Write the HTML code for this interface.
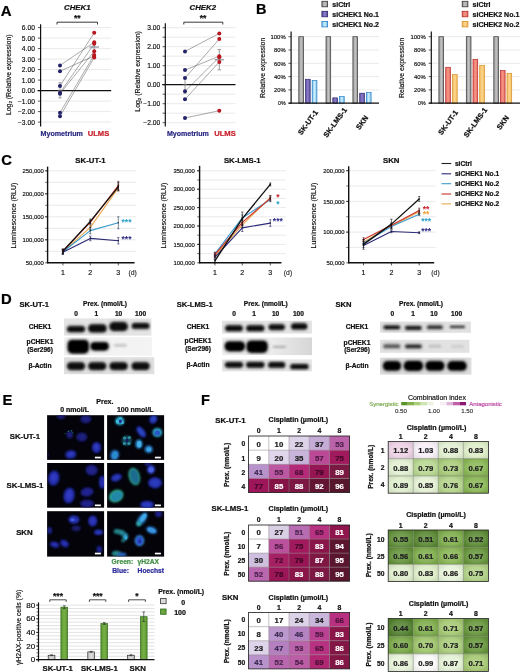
<!DOCTYPE html>
<html lang="en"><head><meta charset="utf-8"><title>Figure</title>
<style>
html,body{margin:0;padding:0;background:#fff;}
body{width:520px;height:672px;overflow:hidden;}
svg{display:block;font-family:"Liberation Sans",Arial,Helvetica,sans-serif;}
</style></head><body>
<svg width="520" height="672" viewBox="0 0 520 672">
<defs>
<linearGradient id="gG" x1="0" x2="1" y1="0" y2="0"><stop offset="0" stop-color="#8e8e8e"/><stop offset="0.5" stop-color="#c6c6c6"/><stop offset="1" stop-color="#8e8e8e"/></linearGradient>
<linearGradient id="gP" x1="0" x2="1" y1="0" y2="0"><stop offset="0" stop-color="#5a4aa0"/><stop offset="0.5" stop-color="#8e80cc"/><stop offset="1" stop-color="#5a4aa0"/></linearGradient>
<linearGradient id="gC" x1="0" x2="1" y1="0" y2="0"><stop offset="0" stop-color="#6cbcec"/><stop offset="0.5" stop-color="#d4f0fc"/><stop offset="1" stop-color="#6cbcec"/></linearGradient>
<linearGradient id="gR" x1="0" x2="1" y1="0" y2="0"><stop offset="0" stop-color="#e86858"/><stop offset="0.5" stop-color="#f4988a"/><stop offset="1" stop-color="#e86858"/></linearGradient>
<linearGradient id="gO" x1="0" x2="1" y1="0" y2="0"><stop offset="0" stop-color="#f4b858"/><stop offset="0.5" stop-color="#fcd890"/><stop offset="1" stop-color="#f4b858"/></linearGradient>
<filter id="b1" x="-20%" y="-60%" width="140%" height="220%"><feGaussianBlur stdDeviation="1.0"/></filter>
<filter id="b2" x="-20%" y="-60%" width="140%" height="220%"><feGaussianBlur stdDeviation="1.4"/></filter>
<filter id="b05" x="-20%" y="-60%" width="140%" height="220%"><feGaussianBlur stdDeviation="0.6"/></filter>
<linearGradient id="bg22" x1="0" x2="1" y1="0" y2="0"><stop offset="0" stop-color="#efefef"/><stop offset="0.55" stop-color="#ececec"/><stop offset="1" stop-color="#d6d6d6"/></linearGradient>
<clipPath id="ba1"><rect x="64.00" y="318.40" width="87.40" height="17.20"/></clipPath>
<clipPath id="ba2"><rect x="64.00" y="337.20" width="87.90" height="18.40"/></clipPath>
<clipPath id="ba3"><rect x="64.00" y="357.20" width="90.30" height="17.00"/></clipPath>
<clipPath id="bb1"><rect x="222.00" y="320.70" width="90.00" height="12.90"/></clipPath>
<clipPath id="bb2"><rect x="222.00" y="337.50" width="90.00" height="17.60"/></clipPath>
<clipPath id="bb3"><rect x="222.00" y="359.40" width="90.00" height="12.00"/></clipPath>
<clipPath id="bc1"><rect x="380.00" y="321.60" width="90.90" height="11.20"/></clipPath>
<clipPath id="bc2"><rect x="380.00" y="339.80" width="89.40" height="13.00"/></clipPath>
<clipPath id="bc3"><rect x="380.00" y="357.60" width="91.40" height="17.00"/></clipPath>
<filter id="c1" x="-30%" y="-30%" width="160%" height="160%"><feGaussianBlur stdDeviation="1.05"/></filter>
<filter id="c2" x="-30%" y="-30%" width="160%" height="160%"><feGaussianBlur stdDeviation="1.4"/></filter>
<filter id="c0" x="-30%" y="-30%" width="160%" height="160%"><feGaussianBlur stdDeviation="0.65"/></filter>
<clipPath id="m1"><rect x="47.10" y="415.20" width="57.0" height="44.7"/></clipPath>
<clipPath id="m2"><rect x="107.10" y="415.20" width="57.0" height="44.7"/></clipPath>
<clipPath id="m3"><rect x="47.10" y="463.00" width="57.0" height="44.7"/></clipPath>
<clipPath id="m4"><rect x="107.10" y="463.00" width="57.0" height="44.7"/></clipPath>
<clipPath id="m5"><rect x="47.10" y="511.20" width="57.0" height="45.4"/></clipPath>
<clipPath id="m6"><rect x="107.10" y="511.20" width="57.0" height="45.4"/></clipPath>
<linearGradient id="gGr" x1="0" x2="1" y1="0" y2="0"><stop offset="0" stop-color="#5c9630"/><stop offset="0.5" stop-color="#78b048"/><stop offset="1" stop-color="#5c9630"/></linearGradient>
<linearGradient id="gGy" x1="0" x2="1" y1="0" y2="0"><stop offset="0" stop-color="#c0c0c0"/><stop offset="0.5" stop-color="#dedede"/><stop offset="1" stop-color="#c0c0c0"/></linearGradient>
<radialGradient id="gloss" cx="0.5" cy="0.5" r="0.62"><stop offset="0" stop-color="#fff" stop-opacity="0.22"/><stop offset="0.6" stop-color="#fff" stop-opacity="0.1"/><stop offset="1" stop-color="#000" stop-opacity="0.06"/></radialGradient>
</defs>
<rect width="520" height="672" fill="#fff"/>
<text x="0.80" y="15.77" font-size="15" font-weight="bold" fill="#000" stroke="#000" stroke-width="0.22">A</text>
<text x="77.30" y="10.39" font-size="7.8" font-weight="bold" text-anchor="middle" fill="#111" font-style="italic" stroke="#111" stroke-width="0.22">CHEK1</text>
<text x="77.30" y="20.92" font-size="8.5" font-weight="bold" text-anchor="middle" fill="#111" stroke="#111" stroke-width="0.22">**</text>
<polyline points="57.00,24.50 57.00,22.20 97.50,22.20 97.50,24.50" fill="none" stroke="#222" stroke-width="0.9"/>
<line x1="40.60" y1="122.10" x2="111.20" y2="122.10" stroke="#d9d9d9" stroke-width="0.55"/>
<line x1="40.60" y1="111.60" x2="111.20" y2="111.60" stroke="#d9d9d9" stroke-width="0.55"/>
<line x1="40.60" y1="101.10" x2="111.20" y2="101.10" stroke="#d9d9d9" stroke-width="0.55"/>
<line x1="40.60" y1="80.10" x2="111.20" y2="80.10" stroke="#d9d9d9" stroke-width="0.55"/>
<line x1="40.60" y1="69.60" x2="111.20" y2="69.60" stroke="#d9d9d9" stroke-width="0.55"/>
<line x1="40.60" y1="59.10" x2="111.20" y2="59.10" stroke="#d9d9d9" stroke-width="0.55"/>
<line x1="40.60" y1="48.60" x2="111.20" y2="48.60" stroke="#d9d9d9" stroke-width="0.55"/>
<line x1="40.60" y1="38.10" x2="111.20" y2="38.10" stroke="#d9d9d9" stroke-width="0.55"/>
<line x1="40.60" y1="27.60" x2="111.20" y2="27.60" stroke="#d9d9d9" stroke-width="0.55"/>
<line x1="37.90" y1="122.10" x2="40.60" y2="122.10" stroke="#111" stroke-width="0.7"/>
<text x="34.90" y="124.50" font-size="6.7" text-anchor="end" stroke="#222" stroke-width="0.16">−3.00</text>
<line x1="37.90" y1="111.60" x2="40.60" y2="111.60" stroke="#111" stroke-width="0.7"/>
<text x="34.90" y="114.00" font-size="6.7" text-anchor="end" stroke="#222" stroke-width="0.16">−2.00</text>
<line x1="37.90" y1="101.10" x2="40.60" y2="101.10" stroke="#111" stroke-width="0.7"/>
<text x="34.90" y="103.50" font-size="6.7" text-anchor="end" stroke="#222" stroke-width="0.16">−1.00</text>
<line x1="37.90" y1="90.60" x2="40.60" y2="90.60" stroke="#111" stroke-width="0.7"/>
<text x="34.90" y="93.00" font-size="6.7" text-anchor="end" stroke="#222" stroke-width="0.16">0.00</text>
<line x1="37.90" y1="80.10" x2="40.60" y2="80.10" stroke="#111" stroke-width="0.7"/>
<text x="34.90" y="82.50" font-size="6.7" text-anchor="end" stroke="#222" stroke-width="0.16">1.00</text>
<line x1="37.90" y1="69.60" x2="40.60" y2="69.60" stroke="#111" stroke-width="0.7"/>
<text x="34.90" y="72.00" font-size="6.7" text-anchor="end" stroke="#222" stroke-width="0.16">2.00</text>
<line x1="37.90" y1="59.10" x2="40.60" y2="59.10" stroke="#111" stroke-width="0.7"/>
<text x="34.90" y="61.50" font-size="6.7" text-anchor="end" stroke="#222" stroke-width="0.16">3.00</text>
<line x1="37.90" y1="48.60" x2="40.60" y2="48.60" stroke="#111" stroke-width="0.7"/>
<text x="34.90" y="51.00" font-size="6.7" text-anchor="end" stroke="#222" stroke-width="0.16">4.00</text>
<line x1="37.90" y1="38.10" x2="40.60" y2="38.10" stroke="#111" stroke-width="0.7"/>
<text x="34.90" y="40.50" font-size="6.7" text-anchor="end" stroke="#222" stroke-width="0.16">5.00</text>
<line x1="37.90" y1="27.60" x2="40.60" y2="27.60" stroke="#111" stroke-width="0.7"/>
<text x="34.90" y="30.00" font-size="6.7" text-anchor="end" stroke="#222" stroke-width="0.16">6.00</text>
<line x1="40.60" y1="24.30" x2="40.60" y2="126.40" stroke="#111" stroke-width="1.2"/>
<line x1="37.60" y1="90.60" x2="111.20" y2="90.60" stroke="#111" stroke-width="1.25"/>
<text x="8.80" y="77.27" font-size="6.9" text-anchor="middle" transform="rotate(-90 8.80 74.80)" stroke="#222" stroke-width="0.16">Log<tspan font-size="4.4" dy="0.8">2</tspan><tspan dy="-0.8"> (Relative expression)</tspan></text>
<line x1="60.00" y1="65.40" x2="94.20" y2="42.30" stroke="#444" stroke-width="0.45"/>
<line x1="60.00" y1="71.17" x2="94.20" y2="55.95" stroke="#444" stroke-width="0.45"/>
<line x1="60.00" y1="85.88" x2="94.20" y2="32.85" stroke="#444" stroke-width="0.45"/>
<line x1="60.00" y1="92.70" x2="94.20" y2="43.87" stroke="#444" stroke-width="0.45"/>
<line x1="60.00" y1="93.75" x2="94.20" y2="51.22" stroke="#444" stroke-width="0.45"/>
<line x1="60.00" y1="112.65" x2="94.20" y2="54.90" stroke="#444" stroke-width="0.45"/>
<line x1="60.00" y1="116.32" x2="94.20" y2="57.52" stroke="#444" stroke-width="0.45"/>
<line x1="60.00" y1="82.72" x2="60.00" y2="97.95" stroke="#777" stroke-width="0.7"/>
<line x1="58.40" y1="82.72" x2="61.60" y2="82.72" stroke="#777" stroke-width="0.7"/>
<line x1="58.40" y1="97.95" x2="61.60" y2="97.95" stroke="#777" stroke-width="0.7"/>
<line x1="57.80" y1="90.39" x2="62.20" y2="90.39" stroke="#777" stroke-width="0.7"/>
<line x1="94.20" y1="42.82" x2="94.20" y2="51.22" stroke="#778" stroke-width="0.7"/>
<line x1="92.60" y1="42.82" x2="95.80" y2="42.82" stroke="#778" stroke-width="0.7"/>
<line x1="92.60" y1="51.22" x2="95.80" y2="51.22" stroke="#778" stroke-width="0.7"/>
<line x1="89.40" y1="47.02" x2="99.00" y2="47.02" stroke="#667" stroke-width="0.9"/>
<circle cx="60.00" cy="65.40" r="2.0" fill="#24236a"/>
<circle cx="60.00" cy="71.17" r="2.0" fill="#24236a"/>
<circle cx="60.00" cy="85.88" r="2.0" fill="#24236a"/>
<circle cx="60.00" cy="92.70" r="2.0" fill="#24236a"/>
<circle cx="60.00" cy="93.75" r="2.0" fill="#24236a"/>
<circle cx="60.00" cy="112.65" r="2.0" fill="#24236a"/>
<circle cx="60.00" cy="116.32" r="2.0" fill="#24236a"/>
<circle cx="94.20" cy="42.30" r="2.0" fill="#b8161f"/>
<circle cx="94.20" cy="55.95" r="2.0" fill="#b8161f"/>
<circle cx="94.20" cy="32.85" r="2.0" fill="#b8161f"/>
<circle cx="94.20" cy="43.87" r="2.0" fill="#b8161f"/>
<circle cx="94.20" cy="51.22" r="2.0" fill="#b8161f"/>
<circle cx="94.20" cy="54.90" r="2.0" fill="#b8161f"/>
<circle cx="94.20" cy="57.52" r="2.0" fill="#b8161f"/>
<text x="61.70" y="136.21" font-size="7.3" font-weight="bold" text-anchor="middle" fill="#2b2a83" textLength="42.30" lengthAdjust="spacingAndGlyphs" stroke="#2b2a83" stroke-width="0.22">Myometrium</text>
<text x="98.50" y="136.28" font-size="7.5" font-weight="bold" text-anchor="middle" fill="#c8202c" textLength="21.50" lengthAdjust="spacingAndGlyphs" stroke="#c8202c" stroke-width="0.22">ULMS</text>
<text x="202.80" y="10.39" font-size="7.8" font-weight="bold" text-anchor="middle" fill="#111" font-style="italic" stroke="#111" stroke-width="0.22">CHEK2</text>
<text x="203.00" y="20.92" font-size="8.5" font-weight="bold" text-anchor="middle" fill="#111" stroke="#111" stroke-width="0.22">**</text>
<polyline points="183.80,24.50 183.80,22.20 222.80,22.20 222.80,24.50" fill="none" stroke="#222" stroke-width="0.9"/>
<line x1="165.30" y1="122.70" x2="235.50" y2="122.70" stroke="#d9d9d9" stroke-width="0.55"/>
<line x1="162.60" y1="122.70" x2="165.30" y2="122.70" stroke="#111" stroke-width="0.7"/>
<line x1="165.30" y1="113.20" x2="235.50" y2="113.20" stroke="#d9d9d9" stroke-width="0.55"/>
<line x1="162.60" y1="113.20" x2="165.30" y2="113.20" stroke="#111" stroke-width="0.7"/>
<line x1="165.30" y1="103.70" x2="235.50" y2="103.70" stroke="#d9d9d9" stroke-width="0.55"/>
<line x1="162.60" y1="103.70" x2="165.30" y2="103.70" stroke="#111" stroke-width="0.7"/>
<line x1="165.30" y1="94.20" x2="235.50" y2="94.20" stroke="#d9d9d9" stroke-width="0.55"/>
<line x1="162.60" y1="94.20" x2="165.30" y2="94.20" stroke="#111" stroke-width="0.7"/>
<line x1="162.60" y1="84.70" x2="165.30" y2="84.70" stroke="#111" stroke-width="0.7"/>
<line x1="165.30" y1="75.20" x2="235.50" y2="75.20" stroke="#d9d9d9" stroke-width="0.55"/>
<line x1="162.60" y1="75.20" x2="165.30" y2="75.20" stroke="#111" stroke-width="0.7"/>
<line x1="165.30" y1="65.70" x2="235.50" y2="65.70" stroke="#d9d9d9" stroke-width="0.55"/>
<line x1="162.60" y1="65.70" x2="165.30" y2="65.70" stroke="#111" stroke-width="0.7"/>
<line x1="165.30" y1="56.20" x2="235.50" y2="56.20" stroke="#d9d9d9" stroke-width="0.55"/>
<line x1="162.60" y1="56.20" x2="165.30" y2="56.20" stroke="#111" stroke-width="0.7"/>
<line x1="165.30" y1="46.70" x2="235.50" y2="46.70" stroke="#d9d9d9" stroke-width="0.55"/>
<line x1="162.60" y1="46.70" x2="165.30" y2="46.70" stroke="#111" stroke-width="0.7"/>
<line x1="165.30" y1="37.20" x2="235.50" y2="37.20" stroke="#d9d9d9" stroke-width="0.55"/>
<line x1="162.60" y1="37.20" x2="165.30" y2="37.20" stroke="#111" stroke-width="0.7"/>
<line x1="165.30" y1="27.70" x2="235.50" y2="27.70" stroke="#d9d9d9" stroke-width="0.55"/>
<line x1="162.60" y1="27.70" x2="165.30" y2="27.70" stroke="#111" stroke-width="0.7"/>
<text x="160.20" y="125.10" font-size="6.7" text-anchor="end" stroke="#222" stroke-width="0.16">−2.00</text>
<text x="160.20" y="106.10" font-size="6.7" text-anchor="end" stroke="#222" stroke-width="0.16">−1.00</text>
<text x="160.20" y="87.10" font-size="6.7" text-anchor="end" stroke="#222" stroke-width="0.16">0.00</text>
<text x="160.20" y="68.10" font-size="6.7" text-anchor="end" stroke="#222" stroke-width="0.16">1.00</text>
<text x="160.20" y="49.10" font-size="6.7" text-anchor="end" stroke="#222" stroke-width="0.16">2.00</text>
<text x="160.20" y="30.10" font-size="6.7" text-anchor="end" stroke="#222" stroke-width="0.16">3.00</text>
<line x1="165.30" y1="23.20" x2="165.30" y2="126.40" stroke="#111" stroke-width="1.2"/>
<line x1="162.30" y1="84.70" x2="235.50" y2="84.70" stroke="#111" stroke-width="1.2"/>
<text x="137.50" y="73.87" font-size="6.9" text-anchor="middle" transform="rotate(-90 137.50 71.40)" stroke="#222" stroke-width="0.16">Log<tspan font-size="4.4" dy="0.8">2</tspan><tspan dy="-0.8"> (Relative expression)</tspan></text>
<line x1="185.00" y1="51.45" x2="219.30" y2="33.40" stroke="#444" stroke-width="0.45"/>
<line x1="185.00" y1="70.07" x2="219.30" y2="56.20" stroke="#444" stroke-width="0.45"/>
<line x1="185.00" y1="78.05" x2="219.30" y2="39.10" stroke="#444" stroke-width="0.45"/>
<line x1="185.00" y1="91.35" x2="219.30" y2="57.15" stroke="#444" stroke-width="0.45"/>
<line x1="185.00" y1="99.33" x2="219.30" y2="61.90" stroke="#444" stroke-width="0.45"/>
<line x1="185.00" y1="117.95" x2="219.30" y2="110.73" stroke="#444" stroke-width="0.45"/>
<line x1="185.00" y1="77.67" x2="185.00" y2="93.25" stroke="#777" stroke-width="0.7"/>
<line x1="183.40" y1="77.67" x2="186.60" y2="77.67" stroke="#777" stroke-width="0.7"/>
<line x1="183.40" y1="93.25" x2="186.60" y2="93.25" stroke="#777" stroke-width="0.7"/>
<line x1="182.80" y1="84.70" x2="187.20" y2="84.70" stroke="#777" stroke-width="0.7"/>
<line x1="219.30" y1="49.55" x2="219.30" y2="69.88" stroke="#777" stroke-width="0.7"/>
<line x1="217.50" y1="49.55" x2="221.10" y2="49.55" stroke="#777" stroke-width="0.7"/>
<line x1="217.50" y1="69.88" x2="221.10" y2="69.88" stroke="#777" stroke-width="0.7"/>
<line x1="214.70" y1="59.81" x2="223.90" y2="59.81" stroke="#667" stroke-width="0.9"/>
<circle cx="185.00" cy="51.45" r="2.0" fill="#24236a"/>
<circle cx="219.30" cy="33.40" r="2.0" fill="#b8161f"/>
<circle cx="185.00" cy="70.07" r="2.0" fill="#24236a"/>
<circle cx="219.30" cy="56.20" r="2.0" fill="#b8161f"/>
<circle cx="185.00" cy="78.05" r="2.0" fill="#24236a"/>
<circle cx="219.30" cy="39.10" r="2.0" fill="#b8161f"/>
<circle cx="185.00" cy="91.35" r="2.0" fill="#24236a"/>
<circle cx="219.30" cy="57.15" r="2.0" fill="#b8161f"/>
<circle cx="185.00" cy="99.33" r="2.0" fill="#24236a"/>
<circle cx="219.30" cy="61.90" r="2.0" fill="#b8161f"/>
<circle cx="185.00" cy="117.95" r="2.0" fill="#24236a"/>
<circle cx="219.30" cy="110.73" r="2.0" fill="#b8161f"/>
<text x="187.90" y="136.21" font-size="7.3" font-weight="bold" text-anchor="middle" fill="#2b2a83" textLength="42.00" lengthAdjust="spacingAndGlyphs" stroke="#2b2a83" stroke-width="0.22">Myometrium</text>
<text x="225.00" y="136.28" font-size="7.5" font-weight="bold" text-anchor="middle" fill="#c8202c" textLength="21.60" lengthAdjust="spacingAndGlyphs" stroke="#c8202c" stroke-width="0.22">ULMS</text>
<text x="256.00" y="13.59" font-size="14.5" font-weight="bold" fill="#000" stroke="#000" stroke-width="0.22">B</text>
<line x1="288.50" y1="103.20" x2="291.10" y2="103.20" stroke="#111" stroke-width="0.7"/>
<text x="285.60" y="105.42" font-size="6.2" text-anchor="end" textLength="7.60" lengthAdjust="spacingAndGlyphs" stroke="#222" stroke-width="0.16">0%</text>
<line x1="291.10" y1="89.90" x2="379.00" y2="89.90" stroke="#d9d9d9" stroke-width="0.55"/>
<line x1="288.50" y1="89.90" x2="291.10" y2="89.90" stroke="#111" stroke-width="0.7"/>
<text x="285.60" y="92.12" font-size="6.2" text-anchor="end" textLength="11.60" lengthAdjust="spacingAndGlyphs" stroke="#222" stroke-width="0.16">20%</text>
<line x1="291.10" y1="76.60" x2="379.00" y2="76.60" stroke="#d9d9d9" stroke-width="0.55"/>
<line x1="288.50" y1="76.60" x2="291.10" y2="76.60" stroke="#111" stroke-width="0.7"/>
<text x="285.60" y="78.82" font-size="6.2" text-anchor="end" textLength="11.60" lengthAdjust="spacingAndGlyphs" stroke="#222" stroke-width="0.16">40%</text>
<line x1="291.10" y1="63.30" x2="379.00" y2="63.30" stroke="#d9d9d9" stroke-width="0.55"/>
<line x1="288.50" y1="63.30" x2="291.10" y2="63.30" stroke="#111" stroke-width="0.7"/>
<text x="285.60" y="65.52" font-size="6.2" text-anchor="end" textLength="11.60" lengthAdjust="spacingAndGlyphs" stroke="#222" stroke-width="0.16">60%</text>
<line x1="291.10" y1="50.00" x2="379.00" y2="50.00" stroke="#d9d9d9" stroke-width="0.55"/>
<line x1="288.50" y1="50.00" x2="291.10" y2="50.00" stroke="#111" stroke-width="0.7"/>
<text x="285.60" y="52.22" font-size="6.2" text-anchor="end" textLength="11.60" lengthAdjust="spacingAndGlyphs" stroke="#222" stroke-width="0.16">80%</text>
<line x1="291.10" y1="36.70" x2="379.00" y2="36.70" stroke="#d9d9d9" stroke-width="0.55"/>
<line x1="288.50" y1="36.70" x2="291.10" y2="36.70" stroke="#111" stroke-width="0.7"/>
<text x="285.60" y="38.92" font-size="6.2" text-anchor="end" textLength="15.00" lengthAdjust="spacingAndGlyphs" stroke="#222" stroke-width="0.16">100%</text>
<rect x="298.80" y="36.70" width="4.70" height="66.50" fill="url(#gG)" stroke="#3a3a3a" stroke-width="0.7"/>
<rect x="305.50" y="79.26" width="4.70" height="23.94" fill="url(#gP)" stroke="#2b2a6a" stroke-width="0.7"/>
<rect x="312.20" y="80.59" width="4.70" height="22.61" fill="url(#gC)" stroke="#2a80c8" stroke-width="0.7"/>
<rect x="326.00" y="36.70" width="4.70" height="66.50" fill="url(#gG)" stroke="#3a3a3a" stroke-width="0.7"/>
<rect x="332.80" y="97.88" width="4.70" height="5.32" fill="url(#gP)" stroke="#2b2a6a" stroke-width="0.7"/>
<rect x="339.50" y="96.55" width="4.70" height="6.65" fill="url(#gC)" stroke="#2a80c8" stroke-width="0.7"/>
<rect x="352.90" y="36.70" width="4.70" height="66.50" fill="url(#gG)" stroke="#3a3a3a" stroke-width="0.7"/>
<rect x="359.70" y="93.22" width="4.70" height="9.98" fill="url(#gP)" stroke="#2b2a6a" stroke-width="0.7"/>
<rect x="366.40" y="92.56" width="4.70" height="10.64" fill="url(#gC)" stroke="#2a80c8" stroke-width="0.7"/>
<line x1="291.10" y1="31.60" x2="291.10" y2="103.80" stroke="#111" stroke-width="1.2"/>
<line x1="288.50" y1="103.20" x2="379.00" y2="103.20" stroke="#111" stroke-width="1.3"/>
<rect x="321.90" y="1.30" width="5.70" height="5.50" fill="url(#gG)" stroke="#3a3a3a" stroke-width="0.8"/>
<text x="332.30" y="7.31" font-size="7.0" font-weight="bold" fill="#111" stroke="#111" stroke-width="0.22">siCtrl</text>
<rect x="321.90" y="11.30" width="5.70" height="5.50" fill="url(#gP)" stroke="#2b2a6a" stroke-width="0.8"/>
<text x="332.30" y="17.31" font-size="7.0" font-weight="bold" fill="#111" stroke="#111" stroke-width="0.22">siCHEK1 No.1</text>
<rect x="321.90" y="21.40" width="5.70" height="5.50" fill="url(#gC)" stroke="#2a80c8" stroke-width="0.8"/>
<text x="332.30" y="27.41" font-size="7.0" font-weight="bold" fill="#111" stroke="#111" stroke-width="0.22">siCHEK1 No.2</text>
<text x="262.80" y="70.27" font-size="6.9" text-anchor="middle" transform="rotate(-90 262.80 67.80)" stroke="#222" stroke-width="0.16">Relative expression</text>
<text x="307.85" y="125.01" font-size="7.3" font-weight="bold" text-anchor="middle" fill="#111" transform="rotate(-54 307.85 122.40)" stroke="#111" stroke-width="0.22">SK-UT-1</text>
<text x="335.10" y="125.01" font-size="7.3" font-weight="bold" text-anchor="middle" fill="#111" transform="rotate(-54 335.10 122.40)" stroke="#111" stroke-width="0.22">SK-LMS-1</text>
<text x="362.00" y="125.01" font-size="7.3" font-weight="bold" text-anchor="middle" fill="#111" transform="rotate(-54 362.00 122.40)" stroke="#111" stroke-width="0.22">SKN</text>
<line x1="428.70" y1="103.20" x2="431.30" y2="103.20" stroke="#111" stroke-width="0.7"/>
<text x="425.60" y="105.42" font-size="6.2" text-anchor="end" textLength="7.60" lengthAdjust="spacingAndGlyphs" stroke="#222" stroke-width="0.16">0%</text>
<line x1="431.30" y1="89.90" x2="520.00" y2="89.90" stroke="#d9d9d9" stroke-width="0.55"/>
<line x1="428.70" y1="89.90" x2="431.30" y2="89.90" stroke="#111" stroke-width="0.7"/>
<text x="425.60" y="92.12" font-size="6.2" text-anchor="end" textLength="11.60" lengthAdjust="spacingAndGlyphs" stroke="#222" stroke-width="0.16">20%</text>
<line x1="431.30" y1="76.60" x2="520.00" y2="76.60" stroke="#d9d9d9" stroke-width="0.55"/>
<line x1="428.70" y1="76.60" x2="431.30" y2="76.60" stroke="#111" stroke-width="0.7"/>
<text x="425.60" y="78.82" font-size="6.2" text-anchor="end" textLength="11.60" lengthAdjust="spacingAndGlyphs" stroke="#222" stroke-width="0.16">40%</text>
<line x1="431.30" y1="63.30" x2="520.00" y2="63.30" stroke="#d9d9d9" stroke-width="0.55"/>
<line x1="428.70" y1="63.30" x2="431.30" y2="63.30" stroke="#111" stroke-width="0.7"/>
<text x="425.60" y="65.52" font-size="6.2" text-anchor="end" textLength="11.60" lengthAdjust="spacingAndGlyphs" stroke="#222" stroke-width="0.16">60%</text>
<line x1="431.30" y1="50.00" x2="520.00" y2="50.00" stroke="#d9d9d9" stroke-width="0.55"/>
<line x1="428.70" y1="50.00" x2="431.30" y2="50.00" stroke="#111" stroke-width="0.7"/>
<text x="425.60" y="52.22" font-size="6.2" text-anchor="end" textLength="11.60" lengthAdjust="spacingAndGlyphs" stroke="#222" stroke-width="0.16">80%</text>
<line x1="431.30" y1="36.70" x2="520.00" y2="36.70" stroke="#d9d9d9" stroke-width="0.55"/>
<line x1="428.70" y1="36.70" x2="431.30" y2="36.70" stroke="#111" stroke-width="0.7"/>
<text x="425.60" y="38.92" font-size="6.2" text-anchor="end" textLength="15.00" lengthAdjust="spacingAndGlyphs" stroke="#222" stroke-width="0.16">100%</text>
<rect x="438.90" y="36.70" width="4.70" height="66.50" fill="url(#gG)" stroke="#3a3a3a" stroke-width="0.7"/>
<rect x="445.70" y="67.29" width="4.70" height="35.91" fill="url(#gR)" stroke="#b8282c" stroke-width="0.7"/>
<rect x="452.50" y="74.61" width="4.70" height="28.60" fill="url(#gO)" stroke="#d89028" stroke-width="0.7"/>
<rect x="466.30" y="36.70" width="4.70" height="66.50" fill="url(#gG)" stroke="#3a3a3a" stroke-width="0.7"/>
<rect x="473.00" y="59.31" width="4.70" height="43.89" fill="url(#gR)" stroke="#b8282c" stroke-width="0.7"/>
<rect x="479.70" y="65.30" width="4.70" height="37.91" fill="url(#gO)" stroke="#d89028" stroke-width="0.7"/>
<rect x="493.80" y="36.70" width="4.70" height="66.50" fill="url(#gG)" stroke="#3a3a3a" stroke-width="0.7"/>
<rect x="500.40" y="70.62" width="4.70" height="32.59" fill="url(#gR)" stroke="#b8282c" stroke-width="0.7"/>
<rect x="507.00" y="73.28" width="4.70" height="29.93" fill="url(#gO)" stroke="#d89028" stroke-width="0.7"/>
<line x1="431.30" y1="31.60" x2="431.30" y2="103.80" stroke="#111" stroke-width="1.2"/>
<line x1="428.70" y1="103.20" x2="520.00" y2="103.20" stroke="#111" stroke-width="1.3"/>
<rect x="462.20" y="1.30" width="5.70" height="5.50" fill="url(#gG)" stroke="#3a3a3a" stroke-width="0.8"/>
<text x="472.60" y="7.31" font-size="7.0" font-weight="bold" fill="#111" stroke="#111" stroke-width="0.22">siCtrl</text>
<rect x="462.20" y="11.30" width="5.70" height="5.50" fill="url(#gR)" stroke="#b8282c" stroke-width="0.8"/>
<text x="472.60" y="17.31" font-size="7.0" font-weight="bold" fill="#111" stroke="#111" stroke-width="0.22">siCHEK2 No.1</text>
<rect x="462.20" y="21.40" width="5.70" height="5.50" fill="url(#gO)" stroke="#d89028" stroke-width="0.8"/>
<text x="472.60" y="27.41" font-size="7.0" font-weight="bold" fill="#111" stroke="#111" stroke-width="0.22">siCHEK2 No.2</text>
<text x="401.70" y="70.27" font-size="6.9" text-anchor="middle" transform="rotate(-90 401.70 67.80)" stroke="#222" stroke-width="0.16">Relative expression</text>
<text x="448.05" y="125.01" font-size="7.3" font-weight="bold" text-anchor="middle" fill="#111" transform="rotate(-54 448.05 122.40)" stroke="#111" stroke-width="0.22">SK-UT-1</text>
<text x="475.35" y="125.01" font-size="7.3" font-weight="bold" text-anchor="middle" fill="#111" transform="rotate(-54 475.35 122.40)" stroke="#111" stroke-width="0.22">SK-LMS-1</text>
<text x="502.75" y="125.01" font-size="7.3" font-weight="bold" text-anchor="middle" fill="#111" transform="rotate(-54 502.75 122.40)" stroke="#111" stroke-width="0.22">SKN</text>
<text x="1.20" y="164.50" font-size="14.8" font-weight="bold" fill="#000" stroke="#000" stroke-width="0.22">C</text>
<text x="90.50" y="163.29" font-size="7.8" font-weight="bold" text-anchor="middle" fill="#111" stroke="#111" stroke-width="0.22">SK-UT-1</text>
<line x1="47.60" y1="251.30" x2="136.10" y2="251.30" stroke="#d9d9d9" stroke-width="0.55"/>
<line x1="45.20" y1="251.30" x2="47.60" y2="251.30" stroke="#111" stroke-width="0.6"/>
<line x1="47.60" y1="239.80" x2="136.10" y2="239.80" stroke="#d9d9d9" stroke-width="0.55"/>
<line x1="45.20" y1="239.80" x2="47.60" y2="239.80" stroke="#111" stroke-width="0.6"/>
<line x1="47.60" y1="228.30" x2="136.10" y2="228.30" stroke="#d9d9d9" stroke-width="0.55"/>
<line x1="45.20" y1="228.30" x2="47.60" y2="228.30" stroke="#111" stroke-width="0.6"/>
<line x1="47.60" y1="216.80" x2="136.10" y2="216.80" stroke="#d9d9d9" stroke-width="0.55"/>
<line x1="45.20" y1="216.80" x2="47.60" y2="216.80" stroke="#111" stroke-width="0.6"/>
<line x1="47.60" y1="205.30" x2="136.10" y2="205.30" stroke="#d9d9d9" stroke-width="0.55"/>
<line x1="45.20" y1="205.30" x2="47.60" y2="205.30" stroke="#111" stroke-width="0.6"/>
<line x1="47.60" y1="193.80" x2="136.10" y2="193.80" stroke="#d9d9d9" stroke-width="0.55"/>
<line x1="45.20" y1="193.80" x2="47.60" y2="193.80" stroke="#111" stroke-width="0.6"/>
<line x1="47.60" y1="182.30" x2="136.10" y2="182.30" stroke="#d9d9d9" stroke-width="0.55"/>
<line x1="45.20" y1="182.30" x2="47.60" y2="182.30" stroke="#111" stroke-width="0.6"/>
<line x1="47.60" y1="170.80" x2="136.10" y2="170.80" stroke="#d9d9d9" stroke-width="0.55"/>
<line x1="45.20" y1="170.80" x2="47.60" y2="170.80" stroke="#111" stroke-width="0.6"/>
<text x="43.80" y="264.91" font-size="5.9" text-anchor="end" stroke="#222" stroke-width="0.16">50,000</text>
<line x1="45.20" y1="262.80" x2="47.60" y2="262.80" stroke="#111" stroke-width="0.7"/>
<text x="43.80" y="241.91" font-size="5.9" text-anchor="end" stroke="#222" stroke-width="0.16">100,000</text>
<line x1="45.20" y1="239.80" x2="47.60" y2="239.80" stroke="#111" stroke-width="0.7"/>
<text x="43.80" y="218.91" font-size="5.9" text-anchor="end" stroke="#222" stroke-width="0.16">150,000</text>
<line x1="45.20" y1="216.80" x2="47.60" y2="216.80" stroke="#111" stroke-width="0.7"/>
<text x="43.80" y="195.91" font-size="5.9" text-anchor="end" stroke="#222" stroke-width="0.16">200,000</text>
<line x1="45.20" y1="193.80" x2="47.60" y2="193.80" stroke="#111" stroke-width="0.7"/>
<text x="43.80" y="172.91" font-size="5.9" text-anchor="end" stroke="#222" stroke-width="0.16">250,000</text>
<line x1="45.20" y1="170.80" x2="47.60" y2="170.80" stroke="#111" stroke-width="0.7"/>
<text x="13.20" y="218.11" font-size="7.0" text-anchor="middle" transform="rotate(-90 13.20 215.60)" stroke="#222" stroke-width="0.16">Luminescence (RLU)</text>
<polyline points="62.90,251.76 90.30,227.38 118.30,187.82" fill="none" stroke="#eaa850" stroke-width="1.15" stroke-linejoin="round"/>
<line x1="62.90" y1="249.92" x2="62.90" y2="253.60" stroke="#5a4020" stroke-width="0.6"/>
<line x1="61.80" y1="249.92" x2="64.00" y2="249.92" stroke="#5a4020" stroke-width="0.6"/>
<line x1="61.80" y1="253.60" x2="64.00" y2="253.60" stroke="#5a4020" stroke-width="0.6"/>
<circle cx="62.90" cy="251.76" r="0.8" fill="#5a4020"/>
<line x1="90.30" y1="225.08" x2="90.30" y2="229.68" stroke="#5a4020" stroke-width="0.6"/>
<line x1="89.20" y1="225.08" x2="91.40" y2="225.08" stroke="#5a4020" stroke-width="0.6"/>
<line x1="89.20" y1="229.68" x2="91.40" y2="229.68" stroke="#5a4020" stroke-width="0.6"/>
<circle cx="90.30" cy="227.38" r="0.8" fill="#5a4020"/>
<line x1="118.30" y1="185.06" x2="118.30" y2="190.58" stroke="#5a4020" stroke-width="0.6"/>
<line x1="117.20" y1="185.06" x2="119.40" y2="185.06" stroke="#5a4020" stroke-width="0.6"/>
<line x1="117.20" y1="190.58" x2="119.40" y2="190.58" stroke="#5a4020" stroke-width="0.6"/>
<circle cx="118.30" cy="187.82" r="0.8" fill="#5a4020"/>
<polyline points="62.90,251.76 90.30,230.60 118.30,222.78" fill="none" stroke="#3a9ccc" stroke-width="1.15" stroke-linejoin="round"/>
<line x1="62.90" y1="249.46" x2="62.90" y2="254.06" stroke="#1c3c50" stroke-width="0.6"/>
<line x1="61.80" y1="249.46" x2="64.00" y2="249.46" stroke="#1c3c50" stroke-width="0.6"/>
<line x1="61.80" y1="254.06" x2="64.00" y2="254.06" stroke="#1c3c50" stroke-width="0.6"/>
<circle cx="62.90" cy="251.76" r="0.8" fill="#1c3c50"/>
<line x1="90.30" y1="227.38" x2="90.30" y2="233.82" stroke="#1c3c50" stroke-width="0.6"/>
<line x1="89.20" y1="227.38" x2="91.40" y2="227.38" stroke="#1c3c50" stroke-width="0.6"/>
<line x1="89.20" y1="233.82" x2="91.40" y2="233.82" stroke="#1c3c50" stroke-width="0.6"/>
<circle cx="90.30" cy="230.60" r="0.8" fill="#1c3c50"/>
<line x1="118.30" y1="216.80" x2="118.30" y2="228.76" stroke="#1c3c50" stroke-width="0.6"/>
<line x1="117.20" y1="216.80" x2="119.40" y2="216.80" stroke="#1c3c50" stroke-width="0.6"/>
<line x1="117.20" y1="228.76" x2="119.40" y2="228.76" stroke="#1c3c50" stroke-width="0.6"/>
<circle cx="118.30" cy="222.78" r="0.8" fill="#1c3c50"/>
<polyline points="62.90,252.22 90.30,238.42 118.30,240.72" fill="none" stroke="#2c2b78" stroke-width="1.15" stroke-linejoin="round"/>
<line x1="62.90" y1="249.92" x2="62.90" y2="254.52" stroke="#1c1b50" stroke-width="0.6"/>
<line x1="61.80" y1="249.92" x2="64.00" y2="249.92" stroke="#1c1b50" stroke-width="0.6"/>
<line x1="61.80" y1="254.52" x2="64.00" y2="254.52" stroke="#1c1b50" stroke-width="0.6"/>
<circle cx="62.90" cy="252.22" r="0.8" fill="#1c1b50"/>
<line x1="90.30" y1="236.12" x2="90.30" y2="240.72" stroke="#1c1b50" stroke-width="0.6"/>
<line x1="89.20" y1="236.12" x2="91.40" y2="236.12" stroke="#1c1b50" stroke-width="0.6"/>
<line x1="89.20" y1="240.72" x2="91.40" y2="240.72" stroke="#1c1b50" stroke-width="0.6"/>
<circle cx="90.30" cy="238.42" r="0.8" fill="#1c1b50"/>
<line x1="118.30" y1="237.50" x2="118.30" y2="243.94" stroke="#1c1b50" stroke-width="0.6"/>
<line x1="117.20" y1="237.50" x2="119.40" y2="237.50" stroke="#1c1b50" stroke-width="0.6"/>
<line x1="117.20" y1="243.94" x2="119.40" y2="243.94" stroke="#1c1b50" stroke-width="0.6"/>
<circle cx="118.30" cy="240.72" r="0.8" fill="#1c1b50"/>
<polyline points="62.90,250.84 90.30,222.32 118.30,185.52" fill="none" stroke="#c8302a" stroke-width="1.15" stroke-linejoin="round"/>
<line x1="62.90" y1="249.00" x2="62.90" y2="252.68" stroke="#50141a" stroke-width="0.6"/>
<line x1="61.80" y1="249.00" x2="64.00" y2="249.00" stroke="#50141a" stroke-width="0.6"/>
<line x1="61.80" y1="252.68" x2="64.00" y2="252.68" stroke="#50141a" stroke-width="0.6"/>
<circle cx="62.90" cy="250.84" r="0.8" fill="#50141a"/>
<line x1="90.30" y1="220.48" x2="90.30" y2="224.16" stroke="#50141a" stroke-width="0.6"/>
<line x1="89.20" y1="220.48" x2="91.40" y2="220.48" stroke="#50141a" stroke-width="0.6"/>
<line x1="89.20" y1="224.16" x2="91.40" y2="224.16" stroke="#50141a" stroke-width="0.6"/>
<circle cx="90.30" cy="222.32" r="0.8" fill="#50141a"/>
<line x1="118.30" y1="181.38" x2="118.30" y2="189.66" stroke="#50141a" stroke-width="0.6"/>
<line x1="117.20" y1="181.38" x2="119.40" y2="181.38" stroke="#50141a" stroke-width="0.6"/>
<line x1="117.20" y1="189.66" x2="119.40" y2="189.66" stroke="#50141a" stroke-width="0.6"/>
<circle cx="118.30" cy="185.52" r="0.8" fill="#50141a"/>
<polyline points="62.90,251.30 90.30,221.40 118.30,186.90" fill="none" stroke="#111" stroke-width="1.3" stroke-linejoin="round"/>
<line x1="62.90" y1="249.00" x2="62.90" y2="253.60" stroke="#111" stroke-width="0.6"/>
<line x1="61.80" y1="249.00" x2="64.00" y2="249.00" stroke="#111" stroke-width="0.6"/>
<line x1="61.80" y1="253.60" x2="64.00" y2="253.60" stroke="#111" stroke-width="0.6"/>
<circle cx="62.90" cy="251.30" r="0.8" fill="#111"/>
<line x1="90.30" y1="219.10" x2="90.30" y2="223.70" stroke="#111" stroke-width="0.6"/>
<line x1="89.20" y1="219.10" x2="91.40" y2="219.10" stroke="#111" stroke-width="0.6"/>
<line x1="89.20" y1="223.70" x2="91.40" y2="223.70" stroke="#111" stroke-width="0.6"/>
<circle cx="90.30" cy="221.40" r="0.8" fill="#111"/>
<line x1="118.30" y1="182.76" x2="118.30" y2="191.04" stroke="#111" stroke-width="0.6"/>
<line x1="117.20" y1="182.76" x2="119.40" y2="182.76" stroke="#111" stroke-width="0.6"/>
<line x1="117.20" y1="191.04" x2="119.40" y2="191.04" stroke="#111" stroke-width="0.6"/>
<circle cx="118.30" cy="186.90" r="0.8" fill="#111"/>
<line x1="47.60" y1="166.60" x2="47.60" y2="263.50" stroke="#111" stroke-width="1.4"/>
<line x1="47.60" y1="262.80" x2="134.60" y2="262.80" stroke="#111" stroke-width="1.4"/>
<line x1="62.90" y1="262.80" x2="62.90" y2="265.40" stroke="#111" stroke-width="0.7"/>
<text x="62.90" y="274.71" font-size="7.0" text-anchor="middle" fill="#111" stroke="#111" stroke-width="0.16">1</text>
<line x1="90.30" y1="262.80" x2="90.30" y2="265.40" stroke="#111" stroke-width="0.7"/>
<text x="90.30" y="274.71" font-size="7.0" text-anchor="middle" fill="#111" stroke="#111" stroke-width="0.16">2</text>
<line x1="118.30" y1="262.80" x2="118.30" y2="265.40" stroke="#111" stroke-width="0.7"/>
<text x="118.30" y="274.71" font-size="7.0" text-anchor="middle" fill="#111" stroke="#111" stroke-width="0.16">3</text>
<text x="132.60" y="274.63" font-size="6.8" text-anchor="middle" fill="#333" stroke="#333" stroke-width="0.16">(d)</text>
<text x="126.50" y="225.02" font-size="8.5" font-weight="bold" text-anchor="middle" fill="#2aa0c8">***</text>
<text x="126.50" y="242.02" font-size="8.5" font-weight="bold" text-anchor="middle" fill="#2b2a83">***</text>
<text x="242.30" y="163.29" font-size="7.8" font-weight="bold" text-anchor="middle" fill="#111" stroke="#111" stroke-width="0.22">SK-LMS-1</text>
<line x1="199.60" y1="253.60" x2="285.90" y2="253.60" stroke="#d9d9d9" stroke-width="0.55"/>
<line x1="197.20" y1="253.60" x2="199.60" y2="253.60" stroke="#111" stroke-width="0.6"/>
<line x1="199.60" y1="244.40" x2="285.90" y2="244.40" stroke="#d9d9d9" stroke-width="0.55"/>
<line x1="197.20" y1="244.40" x2="199.60" y2="244.40" stroke="#111" stroke-width="0.6"/>
<line x1="199.60" y1="235.20" x2="285.90" y2="235.20" stroke="#d9d9d9" stroke-width="0.55"/>
<line x1="197.20" y1="235.20" x2="199.60" y2="235.20" stroke="#111" stroke-width="0.6"/>
<line x1="199.60" y1="226.00" x2="285.90" y2="226.00" stroke="#d9d9d9" stroke-width="0.55"/>
<line x1="197.20" y1="226.00" x2="199.60" y2="226.00" stroke="#111" stroke-width="0.6"/>
<line x1="199.60" y1="216.80" x2="285.90" y2="216.80" stroke="#d9d9d9" stroke-width="0.55"/>
<line x1="197.20" y1="216.80" x2="199.60" y2="216.80" stroke="#111" stroke-width="0.6"/>
<line x1="199.60" y1="207.60" x2="285.90" y2="207.60" stroke="#d9d9d9" stroke-width="0.55"/>
<line x1="197.20" y1="207.60" x2="199.60" y2="207.60" stroke="#111" stroke-width="0.6"/>
<line x1="199.60" y1="198.40" x2="285.90" y2="198.40" stroke="#d9d9d9" stroke-width="0.55"/>
<line x1="197.20" y1="198.40" x2="199.60" y2="198.40" stroke="#111" stroke-width="0.6"/>
<line x1="199.60" y1="189.20" x2="285.90" y2="189.20" stroke="#d9d9d9" stroke-width="0.55"/>
<line x1="197.20" y1="189.20" x2="199.60" y2="189.20" stroke="#111" stroke-width="0.6"/>
<line x1="199.60" y1="180.00" x2="285.90" y2="180.00" stroke="#d9d9d9" stroke-width="0.55"/>
<line x1="197.20" y1="180.00" x2="199.60" y2="180.00" stroke="#111" stroke-width="0.6"/>
<line x1="199.60" y1="170.80" x2="285.90" y2="170.80" stroke="#d9d9d9" stroke-width="0.55"/>
<line x1="197.20" y1="170.80" x2="199.60" y2="170.80" stroke="#111" stroke-width="0.6"/>
<text x="194.80" y="264.91" font-size="5.9" text-anchor="end" stroke="#222" stroke-width="0.16">100,000</text>
<line x1="197.20" y1="262.80" x2="199.60" y2="262.80" stroke="#111" stroke-width="0.7"/>
<text x="194.80" y="246.51" font-size="5.9" text-anchor="end" stroke="#222" stroke-width="0.16">150,000</text>
<line x1="197.20" y1="244.40" x2="199.60" y2="244.40" stroke="#111" stroke-width="0.7"/>
<text x="194.80" y="228.11" font-size="5.9" text-anchor="end" stroke="#222" stroke-width="0.16">200,000</text>
<line x1="197.20" y1="226.00" x2="199.60" y2="226.00" stroke="#111" stroke-width="0.7"/>
<text x="194.80" y="209.71" font-size="5.9" text-anchor="end" stroke="#222" stroke-width="0.16">250,000</text>
<line x1="197.20" y1="207.60" x2="199.60" y2="207.60" stroke="#111" stroke-width="0.7"/>
<text x="194.80" y="191.31" font-size="5.9" text-anchor="end" stroke="#222" stroke-width="0.16">300,000</text>
<line x1="197.20" y1="189.20" x2="199.60" y2="189.20" stroke="#111" stroke-width="0.7"/>
<text x="194.80" y="172.91" font-size="5.9" text-anchor="end" stroke="#222" stroke-width="0.16">350,000</text>
<line x1="197.20" y1="170.80" x2="199.60" y2="170.80" stroke="#111" stroke-width="0.7"/>
<text x="163.40" y="218.11" font-size="7.0" text-anchor="middle" transform="rotate(-90 163.40 215.60)" stroke="#222" stroke-width="0.16">Luminescence (RLU)</text>
<polyline points="214.90,256.18 242.30,224.90 270.30,197.66" fill="none" stroke="#eaa850" stroke-width="1.15" stroke-linejoin="round"/>
<line x1="214.90" y1="254.70" x2="214.90" y2="257.65" stroke="#5a4020" stroke-width="0.6"/>
<line x1="213.80" y1="254.70" x2="216.00" y2="254.70" stroke="#5a4020" stroke-width="0.6"/>
<line x1="213.80" y1="257.65" x2="216.00" y2="257.65" stroke="#5a4020" stroke-width="0.6"/>
<circle cx="214.90" cy="256.18" r="0.8" fill="#5a4020"/>
<line x1="242.30" y1="222.69" x2="242.30" y2="227.10" stroke="#5a4020" stroke-width="0.6"/>
<line x1="241.20" y1="222.69" x2="243.40" y2="222.69" stroke="#5a4020" stroke-width="0.6"/>
<line x1="241.20" y1="227.10" x2="243.40" y2="227.10" stroke="#5a4020" stroke-width="0.6"/>
<circle cx="242.30" cy="224.90" r="0.8" fill="#5a4020"/>
<line x1="270.30" y1="195.46" x2="270.30" y2="199.87" stroke="#5a4020" stroke-width="0.6"/>
<line x1="269.20" y1="195.46" x2="271.40" y2="195.46" stroke="#5a4020" stroke-width="0.6"/>
<line x1="269.20" y1="199.87" x2="271.40" y2="199.87" stroke="#5a4020" stroke-width="0.6"/>
<circle cx="270.30" cy="197.66" r="0.8" fill="#5a4020"/>
<polyline points="214.90,253.97 242.30,217.90 270.30,199.50" fill="none" stroke="#3a9ccc" stroke-width="1.15" stroke-linejoin="round"/>
<line x1="214.90" y1="252.13" x2="214.90" y2="255.81" stroke="#1c3c50" stroke-width="0.6"/>
<line x1="213.80" y1="252.13" x2="216.00" y2="252.13" stroke="#1c3c50" stroke-width="0.6"/>
<line x1="213.80" y1="255.81" x2="216.00" y2="255.81" stroke="#1c3c50" stroke-width="0.6"/>
<circle cx="214.90" cy="253.97" r="0.8" fill="#1c3c50"/>
<line x1="242.30" y1="214.96" x2="242.30" y2="220.85" stroke="#1c3c50" stroke-width="0.6"/>
<line x1="241.20" y1="214.96" x2="243.40" y2="214.96" stroke="#1c3c50" stroke-width="0.6"/>
<line x1="241.20" y1="220.85" x2="243.40" y2="220.85" stroke="#1c3c50" stroke-width="0.6"/>
<circle cx="242.30" cy="217.90" r="0.8" fill="#1c3c50"/>
<line x1="270.30" y1="197.30" x2="270.30" y2="201.71" stroke="#1c3c50" stroke-width="0.6"/>
<line x1="269.20" y1="197.30" x2="271.40" y2="197.30" stroke="#1c3c50" stroke-width="0.6"/>
<line x1="269.20" y1="201.71" x2="271.40" y2="201.71" stroke="#1c3c50" stroke-width="0.6"/>
<circle cx="270.30" cy="199.50" r="0.8" fill="#1c3c50"/>
<polyline points="214.90,257.28 242.30,227.84 270.30,223.06" fill="none" stroke="#2c2b78" stroke-width="1.15" stroke-linejoin="round"/>
<line x1="214.90" y1="255.44" x2="214.90" y2="259.12" stroke="#1c1b50" stroke-width="0.6"/>
<line x1="213.80" y1="255.44" x2="216.00" y2="255.44" stroke="#1c1b50" stroke-width="0.6"/>
<line x1="213.80" y1="259.12" x2="216.00" y2="259.12" stroke="#1c1b50" stroke-width="0.6"/>
<circle cx="214.90" cy="257.28" r="0.8" fill="#1c1b50"/>
<line x1="242.30" y1="224.16" x2="242.30" y2="231.52" stroke="#1c1b50" stroke-width="0.6"/>
<line x1="241.20" y1="224.16" x2="243.40" y2="224.16" stroke="#1c1b50" stroke-width="0.6"/>
<line x1="241.20" y1="231.52" x2="243.40" y2="231.52" stroke="#1c1b50" stroke-width="0.6"/>
<circle cx="242.30" cy="227.84" r="0.8" fill="#1c1b50"/>
<line x1="270.30" y1="219.74" x2="270.30" y2="226.37" stroke="#1c1b50" stroke-width="0.6"/>
<line x1="269.20" y1="219.74" x2="271.40" y2="219.74" stroke="#1c1b50" stroke-width="0.6"/>
<line x1="269.20" y1="226.37" x2="271.40" y2="226.37" stroke="#1c1b50" stroke-width="0.6"/>
<circle cx="270.30" cy="223.06" r="0.8" fill="#1c1b50"/>
<polyline points="214.90,254.70 242.30,222.32 270.30,198.40" fill="none" stroke="#c8302a" stroke-width="1.15" stroke-linejoin="round"/>
<line x1="214.90" y1="252.86" x2="214.90" y2="256.54" stroke="#50141a" stroke-width="0.6"/>
<line x1="213.80" y1="252.86" x2="216.00" y2="252.86" stroke="#50141a" stroke-width="0.6"/>
<line x1="213.80" y1="256.54" x2="216.00" y2="256.54" stroke="#50141a" stroke-width="0.6"/>
<circle cx="214.90" cy="254.70" r="0.8" fill="#50141a"/>
<line x1="242.30" y1="219.38" x2="242.30" y2="225.26" stroke="#50141a" stroke-width="0.6"/>
<line x1="241.20" y1="219.38" x2="243.40" y2="219.38" stroke="#50141a" stroke-width="0.6"/>
<line x1="241.20" y1="225.26" x2="243.40" y2="225.26" stroke="#50141a" stroke-width="0.6"/>
<circle cx="242.30" cy="222.32" r="0.8" fill="#50141a"/>
<line x1="270.30" y1="195.82" x2="270.30" y2="200.98" stroke="#50141a" stroke-width="0.6"/>
<line x1="269.20" y1="195.82" x2="271.40" y2="195.82" stroke="#50141a" stroke-width="0.6"/>
<line x1="269.20" y1="200.98" x2="271.40" y2="200.98" stroke="#50141a" stroke-width="0.6"/>
<circle cx="270.30" cy="198.40" r="0.8" fill="#50141a"/>
<polyline points="214.90,260.96 242.30,218.64 270.30,184.42" fill="none" stroke="#111" stroke-width="1.3" stroke-linejoin="round"/>
<line x1="214.90" y1="259.12" x2="214.90" y2="262.80" stroke="#111" stroke-width="0.6"/>
<line x1="213.80" y1="259.12" x2="216.00" y2="259.12" stroke="#111" stroke-width="0.6"/>
<line x1="213.80" y1="262.80" x2="216.00" y2="262.80" stroke="#111" stroke-width="0.6"/>
<circle cx="214.90" cy="260.96" r="0.8" fill="#111"/>
<line x1="242.30" y1="212.02" x2="242.30" y2="225.26" stroke="#111" stroke-width="0.6"/>
<line x1="241.20" y1="212.02" x2="243.40" y2="212.02" stroke="#111" stroke-width="0.6"/>
<line x1="241.20" y1="225.26" x2="243.40" y2="225.26" stroke="#111" stroke-width="0.6"/>
<circle cx="242.30" cy="218.64" r="0.8" fill="#111"/>
<line x1="270.30" y1="182.94" x2="270.30" y2="185.89" stroke="#111" stroke-width="0.6"/>
<line x1="269.20" y1="182.94" x2="271.40" y2="182.94" stroke="#111" stroke-width="0.6"/>
<line x1="269.20" y1="185.89" x2="271.40" y2="185.89" stroke="#111" stroke-width="0.6"/>
<circle cx="270.30" cy="184.42" r="0.8" fill="#111"/>
<line x1="199.60" y1="165.80" x2="199.60" y2="263.50" stroke="#111" stroke-width="1.4"/>
<line x1="199.60" y1="262.80" x2="281.40" y2="262.80" stroke="#111" stroke-width="1.4"/>
<line x1="214.90" y1="262.80" x2="214.90" y2="265.40" stroke="#111" stroke-width="0.7"/>
<text x="214.90" y="274.71" font-size="7.0" text-anchor="middle" fill="#111" stroke="#111" stroke-width="0.16">1</text>
<line x1="242.30" y1="262.80" x2="242.30" y2="265.40" stroke="#111" stroke-width="0.7"/>
<text x="242.30" y="274.71" font-size="7.0" text-anchor="middle" fill="#111" stroke="#111" stroke-width="0.16">2</text>
<line x1="270.30" y1="262.80" x2="270.30" y2="265.40" stroke="#111" stroke-width="0.7"/>
<text x="270.30" y="274.71" font-size="7.0" text-anchor="middle" fill="#111" stroke="#111" stroke-width="0.16">3</text>
<text x="288.00" y="274.63" font-size="6.8" text-anchor="middle" fill="#333" stroke="#333" stroke-width="0.16">(d)</text>
<text x="278.00" y="199.82" font-size="8.5" font-weight="bold" text-anchor="middle" fill="#c8202c">*</text>
<text x="277.80" y="207.12" font-size="8.5" font-weight="bold" text-anchor="middle" fill="#2aa0c8">*</text>
<text x="277.80" y="224.02" font-size="8.5" font-weight="bold" text-anchor="middle" fill="#2b2a83">***</text>
<text x="391.20" y="163.29" font-size="7.8" font-weight="bold" text-anchor="middle" fill="#111" stroke="#111" stroke-width="0.22">SKN</text>
<line x1="348.70" y1="247.45" x2="435.70" y2="247.45" stroke="#d9d9d9" stroke-width="0.55"/>
<line x1="346.30" y1="247.45" x2="348.70" y2="247.45" stroke="#111" stroke-width="0.6"/>
<line x1="348.70" y1="232.10" x2="435.70" y2="232.10" stroke="#d9d9d9" stroke-width="0.55"/>
<line x1="346.30" y1="232.10" x2="348.70" y2="232.10" stroke="#111" stroke-width="0.6"/>
<line x1="348.70" y1="216.75" x2="435.70" y2="216.75" stroke="#d9d9d9" stroke-width="0.55"/>
<line x1="346.30" y1="216.75" x2="348.70" y2="216.75" stroke="#111" stroke-width="0.6"/>
<line x1="348.70" y1="201.40" x2="435.70" y2="201.40" stroke="#d9d9d9" stroke-width="0.55"/>
<line x1="346.30" y1="201.40" x2="348.70" y2="201.40" stroke="#111" stroke-width="0.6"/>
<line x1="348.70" y1="186.05" x2="435.70" y2="186.05" stroke="#d9d9d9" stroke-width="0.55"/>
<line x1="346.30" y1="186.05" x2="348.70" y2="186.05" stroke="#111" stroke-width="0.6"/>
<line x1="348.70" y1="170.70" x2="435.70" y2="170.70" stroke="#d9d9d9" stroke-width="0.55"/>
<line x1="346.30" y1="170.70" x2="348.70" y2="170.70" stroke="#111" stroke-width="0.6"/>
<text x="344.60" y="264.91" font-size="5.9" text-anchor="end" stroke="#222" stroke-width="0.16">50,000</text>
<line x1="346.30" y1="262.80" x2="348.70" y2="262.80" stroke="#111" stroke-width="0.7"/>
<text x="344.60" y="234.21" font-size="5.9" text-anchor="end" stroke="#222" stroke-width="0.16">100,000</text>
<line x1="346.30" y1="232.10" x2="348.70" y2="232.10" stroke="#111" stroke-width="0.7"/>
<text x="344.60" y="203.51" font-size="5.9" text-anchor="end" stroke="#222" stroke-width="0.16">150,000</text>
<line x1="346.30" y1="201.40" x2="348.70" y2="201.40" stroke="#111" stroke-width="0.7"/>
<text x="344.60" y="172.81" font-size="5.9" text-anchor="end" stroke="#222" stroke-width="0.16">200,000</text>
<line x1="346.30" y1="170.70" x2="348.70" y2="170.70" stroke="#111" stroke-width="0.7"/>
<text x="313.80" y="218.11" font-size="7.0" text-anchor="middle" transform="rotate(-90 313.80 215.60)" stroke="#222" stroke-width="0.16">Luminescence (RLU)</text>
<polyline points="363.50,241.92 391.40,225.96 419.20,211.84" fill="none" stroke="#eaa850" stroke-width="1.15" stroke-linejoin="round"/>
<line x1="363.50" y1="240.08" x2="363.50" y2="243.77" stroke="#5a4020" stroke-width="0.6"/>
<line x1="362.40" y1="240.08" x2="364.60" y2="240.08" stroke="#5a4020" stroke-width="0.6"/>
<line x1="362.40" y1="243.77" x2="364.60" y2="243.77" stroke="#5a4020" stroke-width="0.6"/>
<circle cx="363.50" cy="241.92" r="0.8" fill="#5a4020"/>
<line x1="391.40" y1="224.12" x2="391.40" y2="227.80" stroke="#5a4020" stroke-width="0.6"/>
<line x1="390.30" y1="224.12" x2="392.50" y2="224.12" stroke="#5a4020" stroke-width="0.6"/>
<line x1="390.30" y1="227.80" x2="392.50" y2="227.80" stroke="#5a4020" stroke-width="0.6"/>
<circle cx="391.40" cy="225.96" r="0.8" fill="#5a4020"/>
<line x1="419.20" y1="210.00" x2="419.20" y2="213.68" stroke="#5a4020" stroke-width="0.6"/>
<line x1="418.10" y1="210.00" x2="420.30" y2="210.00" stroke="#5a4020" stroke-width="0.6"/>
<line x1="418.10" y1="213.68" x2="420.30" y2="213.68" stroke="#5a4020" stroke-width="0.6"/>
<circle cx="419.20" cy="211.84" r="0.8" fill="#5a4020"/>
<polyline points="363.50,243.15 391.40,226.57 419.20,214.29" fill="none" stroke="#3a9ccc" stroke-width="1.15" stroke-linejoin="round"/>
<line x1="363.50" y1="241.31" x2="363.50" y2="244.99" stroke="#1c3c50" stroke-width="0.6"/>
<line x1="362.40" y1="241.31" x2="364.60" y2="241.31" stroke="#1c3c50" stroke-width="0.6"/>
<line x1="362.40" y1="244.99" x2="364.60" y2="244.99" stroke="#1c3c50" stroke-width="0.6"/>
<circle cx="363.50" cy="243.15" r="0.8" fill="#1c3c50"/>
<line x1="391.40" y1="224.12" x2="391.40" y2="229.03" stroke="#1c3c50" stroke-width="0.6"/>
<line x1="390.30" y1="224.12" x2="392.50" y2="224.12" stroke="#1c3c50" stroke-width="0.6"/>
<line x1="390.30" y1="229.03" x2="392.50" y2="229.03" stroke="#1c3c50" stroke-width="0.6"/>
<circle cx="391.40" cy="226.57" r="0.8" fill="#1c3c50"/>
<line x1="419.20" y1="213.07" x2="419.20" y2="215.52" stroke="#1c3c50" stroke-width="0.6"/>
<line x1="418.10" y1="213.07" x2="420.30" y2="213.07" stroke="#1c3c50" stroke-width="0.6"/>
<line x1="418.10" y1="215.52" x2="420.30" y2="215.52" stroke="#1c3c50" stroke-width="0.6"/>
<circle cx="419.20" cy="214.29" r="0.8" fill="#1c3c50"/>
<polyline points="363.50,245.61 391.40,231.49 419.20,232.71" fill="none" stroke="#2c2b78" stroke-width="1.15" stroke-linejoin="round"/>
<line x1="363.50" y1="243.77" x2="363.50" y2="247.45" stroke="#1c1b50" stroke-width="0.6"/>
<line x1="362.40" y1="243.77" x2="364.60" y2="243.77" stroke="#1c1b50" stroke-width="0.6"/>
<line x1="362.40" y1="247.45" x2="364.60" y2="247.45" stroke="#1c1b50" stroke-width="0.6"/>
<circle cx="363.50" cy="245.61" r="0.8" fill="#1c1b50"/>
<line x1="391.40" y1="230.26" x2="391.40" y2="232.71" stroke="#1c1b50" stroke-width="0.6"/>
<line x1="390.30" y1="230.26" x2="392.50" y2="230.26" stroke="#1c1b50" stroke-width="0.6"/>
<line x1="390.30" y1="232.71" x2="392.50" y2="232.71" stroke="#1c1b50" stroke-width="0.6"/>
<circle cx="391.40" cy="231.49" r="0.8" fill="#1c1b50"/>
<line x1="419.20" y1="231.79" x2="419.20" y2="233.63" stroke="#1c1b50" stroke-width="0.6"/>
<line x1="418.10" y1="231.79" x2="420.30" y2="231.79" stroke="#1c1b50" stroke-width="0.6"/>
<line x1="418.10" y1="233.63" x2="420.30" y2="233.63" stroke="#1c1b50" stroke-width="0.6"/>
<circle cx="419.20" cy="232.71" r="0.8" fill="#1c1b50"/>
<polyline points="363.50,239.47 391.40,225.35 419.20,210.61" fill="none" stroke="#c8302a" stroke-width="1.15" stroke-linejoin="round"/>
<line x1="363.50" y1="237.63" x2="363.50" y2="241.31" stroke="#50141a" stroke-width="0.6"/>
<line x1="362.40" y1="237.63" x2="364.60" y2="237.63" stroke="#50141a" stroke-width="0.6"/>
<line x1="362.40" y1="241.31" x2="364.60" y2="241.31" stroke="#50141a" stroke-width="0.6"/>
<circle cx="363.50" cy="239.47" r="0.8" fill="#50141a"/>
<line x1="391.40" y1="222.89" x2="391.40" y2="227.80" stroke="#50141a" stroke-width="0.6"/>
<line x1="390.30" y1="222.89" x2="392.50" y2="222.89" stroke="#50141a" stroke-width="0.6"/>
<line x1="390.30" y1="227.80" x2="392.50" y2="227.80" stroke="#50141a" stroke-width="0.6"/>
<circle cx="391.40" cy="225.35" r="0.8" fill="#50141a"/>
<line x1="419.20" y1="208.15" x2="419.20" y2="213.07" stroke="#50141a" stroke-width="0.6"/>
<line x1="418.10" y1="208.15" x2="420.30" y2="208.15" stroke="#50141a" stroke-width="0.6"/>
<line x1="418.10" y1="213.07" x2="420.30" y2="213.07" stroke="#50141a" stroke-width="0.6"/>
<circle cx="419.20" cy="210.61" r="0.8" fill="#50141a"/>
<polyline points="363.50,244.38 391.40,224.12 419.20,198.94" fill="none" stroke="#111" stroke-width="1.3" stroke-linejoin="round"/>
<line x1="363.50" y1="239.47" x2="363.50" y2="249.29" stroke="#111" stroke-width="0.6"/>
<line x1="362.40" y1="239.47" x2="364.60" y2="239.47" stroke="#111" stroke-width="0.6"/>
<line x1="362.40" y1="249.29" x2="364.60" y2="249.29" stroke="#111" stroke-width="0.6"/>
<circle cx="363.50" cy="244.38" r="0.8" fill="#111"/>
<line x1="391.40" y1="219.21" x2="391.40" y2="229.03" stroke="#111" stroke-width="0.6"/>
<line x1="390.30" y1="219.21" x2="392.50" y2="219.21" stroke="#111" stroke-width="0.6"/>
<line x1="390.30" y1="229.03" x2="392.50" y2="229.03" stroke="#111" stroke-width="0.6"/>
<circle cx="391.40" cy="224.12" r="0.8" fill="#111"/>
<line x1="419.20" y1="196.49" x2="419.20" y2="201.40" stroke="#111" stroke-width="0.6"/>
<line x1="418.10" y1="196.49" x2="420.30" y2="196.49" stroke="#111" stroke-width="0.6"/>
<line x1="418.10" y1="201.40" x2="420.30" y2="201.40" stroke="#111" stroke-width="0.6"/>
<circle cx="419.20" cy="198.94" r="0.8" fill="#111"/>
<line x1="348.70" y1="166.20" x2="348.70" y2="263.50" stroke="#111" stroke-width="1.4"/>
<line x1="348.70" y1="262.80" x2="434.20" y2="262.80" stroke="#111" stroke-width="1.4"/>
<line x1="363.50" y1="262.80" x2="363.50" y2="265.40" stroke="#111" stroke-width="0.7"/>
<text x="363.50" y="274.71" font-size="7.0" text-anchor="middle" fill="#111" stroke="#111" stroke-width="0.16">1</text>
<line x1="391.40" y1="262.80" x2="391.40" y2="265.40" stroke="#111" stroke-width="0.7"/>
<text x="391.40" y="274.71" font-size="7.0" text-anchor="middle" fill="#111" stroke="#111" stroke-width="0.16">2</text>
<line x1="419.20" y1="262.80" x2="419.20" y2="265.40" stroke="#111" stroke-width="0.7"/>
<text x="419.20" y="274.71" font-size="7.0" text-anchor="middle" fill="#111" stroke="#111" stroke-width="0.16">3</text>
<text x="435.50" y="274.63" font-size="6.8" text-anchor="middle" fill="#333" stroke="#333" stroke-width="0.16">(d)</text>
<text x="426.00" y="211.72" font-size="8.5" font-weight="bold" text-anchor="middle" fill="#c8202c">**</text>
<text x="426.00" y="217.02" font-size="8.5" font-weight="bold" text-anchor="middle" fill="#f0a030">**</text>
<text x="426.20" y="223.92" font-size="8.5" font-weight="bold" text-anchor="middle" fill="#2aa0c8">***</text>
<text x="426.20" y="234.12" font-size="8.5" font-weight="bold" text-anchor="middle" fill="#2b2a83">***</text>
<line x1="441.50" y1="163.50" x2="451.20" y2="163.50" stroke="#222" stroke-width="1.1"/>
<text x="454.90" y="165.88" font-size="6.65" font-weight="bold" fill="#111" stroke="#111" stroke-width="0.22">siCtrl</text>
<line x1="441.50" y1="173.80" x2="451.20" y2="173.80" stroke="#2c2b78" stroke-width="1.1"/>
<text x="454.90" y="176.18" font-size="6.65" font-weight="bold" fill="#111" stroke="#111" stroke-width="0.22">siCHEK1 No.1</text>
<line x1="441.50" y1="183.70" x2="451.20" y2="183.70" stroke="#3a9ccc" stroke-width="1.1"/>
<text x="454.90" y="186.08" font-size="6.65" font-weight="bold" fill="#111" stroke="#111" stroke-width="0.22">siCHEK1 No.2</text>
<line x1="441.50" y1="194.00" x2="451.20" y2="194.00" stroke="#c8302a" stroke-width="1.1"/>
<text x="454.90" y="196.38" font-size="6.65" font-weight="bold" fill="#111" stroke="#111" stroke-width="0.22">siCHEK2 No.2</text>
<line x1="441.50" y1="203.90" x2="451.20" y2="203.90" stroke="#eaa850" stroke-width="1.1"/>
<text x="454.90" y="206.28" font-size="6.65" font-weight="bold" fill="#111" stroke="#111" stroke-width="0.22">siCHEK2 No.2</text>
<text x="1.00" y="303.50" font-size="14.8" font-weight="bold" fill="#000" stroke="#000" stroke-width="0.22">D</text>
<text x="19.50" y="307.02" font-size="7.6" font-weight="bold" fill="#111" stroke="#111" stroke-width="0.22">SK-UT-1</text>
<text x="105.00" y="305.56" font-size="6.6" font-weight="bold" text-anchor="middle" fill="#111" stroke="#111" stroke-width="0.22">Prex. (nmol/L)</text>
<text x="76.00" y="316.36" font-size="6.6" font-weight="bold" text-anchor="middle" fill="#111" stroke="#111" stroke-width="0.22">0</text>
<text x="96.40" y="316.36" font-size="6.6" font-weight="bold" text-anchor="middle" fill="#111" stroke="#111" stroke-width="0.22">1</text>
<text x="118.60" y="316.36" font-size="6.6" font-weight="bold" text-anchor="middle" fill="#111" stroke="#111" stroke-width="0.22">10</text>
<text x="140.60" y="316.36" font-size="6.6" font-weight="bold" text-anchor="middle" fill="#111" stroke="#111" stroke-width="0.22">100</text>
<rect x="64.00" y="318.40" width="87.40" height="17.20" fill="#e4e4e4"/>
<g clip-path="url(#ba1)">
<rect x="66.05" y="324.80" width="19.90" height="8.60" rx="4.30" fill="#222" opacity="0.28" filter="url(#b2)"/>
<rect x="67.25" y="326.20" width="17.50" height="5.80" rx="2.90" fill="#080808" opacity="1" filter="url(#b1)"/>
<rect x="87.30" y="323.20" width="20.20" height="10.40" rx="5.00" fill="#222" opacity="0.28" filter="url(#b2)"/>
<rect x="88.50" y="324.60" width="17.80" height="7.60" rx="3.80" fill="#080808" opacity="1" filter="url(#b1)"/>
<rect x="108.40" y="320.80" width="20.40" height="11.40" rx="5.00" fill="#222" opacity="0.28" filter="url(#b2)"/>
<rect x="109.60" y="322.20" width="18.00" height="8.60" rx="4.30" fill="#080808" opacity="1" filter="url(#b1)"/>
<rect x="130.80" y="321.90" width="19.60" height="8.00" rx="4.00" fill="#222" opacity="0.28" filter="url(#b2)"/>
<rect x="132.00" y="323.30" width="17.20" height="5.20" rx="2.60" fill="#080808" opacity="1" filter="url(#b1)"/>
</g>
<rect x="64.00" y="337.20" width="87.90" height="18.40" fill="#f3f3f3"/>
<g clip-path="url(#ba2)">
<rect x="66.50" y="338.60" width="23.40" height="16.20" rx="5.00" fill="#222" opacity="0.28" filter="url(#b2)"/>
<rect x="67.70" y="340.00" width="21.00" height="13.40" rx="4.60" fill="#000" opacity="1" filter="url(#b1)"/>
<rect x="89.40" y="340.80" width="20.40" height="11.00" rx="5.00" fill="#222" opacity="0.28" filter="url(#b2)"/>
<rect x="90.60" y="342.20" width="18.00" height="8.20" rx="4.10" fill="#000" opacity="1" filter="url(#b1)"/>
<rect x="113.90" y="343.70" width="13.00" height="3.40" rx="1.70" fill="#999" opacity="0.45" filter="url(#b1)"/>
</g>
<rect x="64.00" y="357.20" width="90.30" height="17.00" fill="#e0e0e0"/>
<g clip-path="url(#ba3)">
<rect x="66.10" y="361.00" width="19.80" height="10.20" rx="5.00" fill="#222" opacity="0.28" filter="url(#b2)"/>
<rect x="67.30" y="362.40" width="17.40" height="7.40" rx="3.70" fill="#080808" opacity="1" filter="url(#b1)"/>
<rect x="87.30" y="361.00" width="19.80" height="10.20" rx="5.00" fill="#222" opacity="0.28" filter="url(#b2)"/>
<rect x="88.50" y="362.40" width="17.40" height="7.40" rx="3.70" fill="#080808" opacity="1" filter="url(#b1)"/>
<rect x="108.60" y="361.00" width="20.00" height="10.20" rx="5.00" fill="#222" opacity="0.28" filter="url(#b2)"/>
<rect x="109.80" y="362.40" width="17.60" height="7.40" rx="3.70" fill="#080808" opacity="1" filter="url(#b1)"/>
<rect x="130.60" y="361.10" width="20.00" height="10.00" rx="5.00" fill="#222" opacity="0.28" filter="url(#b2)"/>
<rect x="131.80" y="362.50" width="17.60" height="7.20" rx="3.60" fill="#080808" opacity="1" filter="url(#b1)"/>
</g>
<text x="40.00" y="329.10" font-size="6.7" font-weight="bold" text-anchor="middle" fill="#111" stroke="#111" stroke-width="0.22">CHEK1</text>
<text x="40.00" y="344.40" font-size="6.7" font-weight="bold" text-anchor="middle" fill="#111" stroke="#111" stroke-width="0.22">pCHEK1</text>
<text x="40.00" y="351.93" font-size="6.5" font-weight="bold" text-anchor="middle" fill="#111" stroke="#111" stroke-width="0.22">(Ser296)</text>
<text x="40.00" y="367.60" font-size="6.7" font-weight="bold" text-anchor="middle" fill="#111" stroke="#111" stroke-width="0.22">β-Actin</text>
<text x="176.80" y="307.02" font-size="7.6" font-weight="bold" fill="#111" stroke="#111" stroke-width="0.22">SK-LMS-1</text>
<text x="265.80" y="305.56" font-size="6.6" font-weight="bold" text-anchor="middle" fill="#111" stroke="#111" stroke-width="0.22">Prex. (nmol/L)</text>
<text x="234.20" y="316.36" font-size="6.6" font-weight="bold" text-anchor="middle" fill="#111" stroke="#111" stroke-width="0.22">0</text>
<text x="254.00" y="316.36" font-size="6.6" font-weight="bold" text-anchor="middle" fill="#111" stroke="#111" stroke-width="0.22">1</text>
<text x="275.60" y="316.36" font-size="6.6" font-weight="bold" text-anchor="middle" fill="#111" stroke="#111" stroke-width="0.22">10</text>
<text x="298.40" y="316.36" font-size="6.6" font-weight="bold" text-anchor="middle" fill="#111" stroke="#111" stroke-width="0.22">100</text>
<rect x="222.00" y="320.70" width="90.00" height="12.90" fill="#e4e4e4"/>
<g clip-path="url(#bb1)">
<rect x="224.30" y="324.10" width="19.40" height="8.40" rx="4.20" fill="#222" opacity="0.28" filter="url(#b2)"/>
<rect x="225.50" y="325.50" width="17.00" height="5.60" rx="2.80" fill="#080808" opacity="1" filter="url(#b1)"/>
<rect x="245.35" y="324.10" width="19.90" height="8.40" rx="4.20" fill="#222" opacity="0.28" filter="url(#b2)"/>
<rect x="246.55" y="325.50" width="17.50" height="5.60" rx="2.80" fill="#080808" opacity="1" filter="url(#b1)"/>
<rect x="267.60" y="323.00" width="18.20" height="8.20" rx="4.10" fill="#222" opacity="0.28" filter="url(#b2)"/>
<rect x="268.80" y="324.40" width="15.80" height="5.40" rx="2.70" fill="#080808" opacity="1" filter="url(#b1)"/>
<rect x="290.20" y="322.10" width="18.00" height="8.60" rx="4.30" fill="#222" opacity="0.28" filter="url(#b2)"/>
<rect x="291.40" y="323.50" width="15.60" height="5.80" rx="2.90" fill="#080808" opacity="1" filter="url(#b1)"/>
</g>
<rect x="222.00" y="337.50" width="90.00" height="17.60" fill="url(#bg22)"/>
<g clip-path="url(#bb2)">
<rect x="223.60" y="340.00" width="22.40" height="12.60" rx="5.00" fill="#222" opacity="0.28" filter="url(#b2)"/>
<rect x="224.80" y="341.40" width="20.00" height="9.80" rx="4.60" fill="#000" opacity="1" filter="url(#b1)"/>
<rect x="245.50" y="339.30" width="23.20" height="14.80" rx="5.00" fill="#222" opacity="0.28" filter="url(#b2)"/>
<rect x="246.70" y="340.70" width="20.80" height="12.00" rx="4.60" fill="#000" opacity="1" filter="url(#b1)"/>
<rect x="272.55" y="345.70" width="13.50" height="2.20" rx="1.10" fill="#8c8c8c" opacity="0.6" filter="url(#b1)"/>
</g>
<rect x="222.00" y="359.40" width="90.00" height="12.00" fill="#e6e6e6"/>
<g clip-path="url(#bb3)">
<rect x="224.05" y="360.80" width="19.90" height="8.00" rx="4.00" fill="#222" opacity="0.28" filter="url(#b2)"/>
<rect x="225.25" y="362.20" width="17.50" height="5.20" rx="2.60" fill="#080808" opacity="1" filter="url(#b1)"/>
<rect x="245.20" y="360.80" width="20.20" height="8.00" rx="4.00" fill="#222" opacity="0.28" filter="url(#b2)"/>
<rect x="246.40" y="362.20" width="17.80" height="5.20" rx="2.60" fill="#080808" opacity="1" filter="url(#b1)"/>
<rect x="267.25" y="360.90" width="18.90" height="8.00" rx="4.00" fill="#222" opacity="0.28" filter="url(#b2)"/>
<rect x="268.45" y="362.30" width="16.50" height="5.20" rx="2.60" fill="#080808" opacity="1" filter="url(#b1)"/>
<rect x="289.20" y="362.90" width="20.40" height="7.60" rx="3.80" fill="#222" opacity="0.28" filter="url(#b2)"/>
<rect x="290.40" y="364.30" width="18.00" height="4.80" rx="2.40" fill="#080808" opacity="1" filter="url(#b1)"/>
</g>
<text x="198.00" y="328.60" font-size="6.7" font-weight="bold" text-anchor="middle" fill="#111" stroke="#111" stroke-width="0.22">CHEK1</text>
<text x="198.00" y="343.40" font-size="6.7" font-weight="bold" text-anchor="middle" fill="#111" stroke="#111" stroke-width="0.22">pCHEK1</text>
<text x="198.00" y="351.13" font-size="6.5" font-weight="bold" text-anchor="middle" fill="#111" stroke="#111" stroke-width="0.22">(Ser296)</text>
<text x="198.00" y="367.20" font-size="6.7" font-weight="bold" text-anchor="middle" fill="#111" stroke="#111" stroke-width="0.22">β-Actin</text>
<text x="335.40" y="307.02" font-size="7.6" font-weight="bold" fill="#111" stroke="#111" stroke-width="0.22">SKN</text>
<text x="421.00" y="305.56" font-size="6.6" font-weight="bold" text-anchor="middle" fill="#111" stroke="#111" stroke-width="0.22">Prex. (nmol/L)</text>
<text x="392.30" y="316.36" font-size="6.6" font-weight="bold" text-anchor="middle" fill="#111" stroke="#111" stroke-width="0.22">0</text>
<text x="413.00" y="316.36" font-size="6.6" font-weight="bold" text-anchor="middle" fill="#111" stroke="#111" stroke-width="0.22">1</text>
<text x="434.00" y="316.36" font-size="6.6" font-weight="bold" text-anchor="middle" fill="#111" stroke="#111" stroke-width="0.22">10</text>
<text x="456.60" y="316.36" font-size="6.6" font-weight="bold" text-anchor="middle" fill="#111" stroke="#111" stroke-width="0.22">100</text>
<rect x="380.00" y="321.60" width="90.90" height="11.20" fill="#e0e0e0"/>
<g clip-path="url(#bc1)">
<rect x="382.60" y="324.30" width="18.40" height="6.00" rx="3.00" fill="#222" opacity="0.28" filter="url(#b2)"/>
<rect x="383.80" y="325.70" width="16.00" height="3.20" rx="1.60" fill="#0c0c0c" opacity="1" filter="url(#b1)"/>
<rect x="404.20" y="324.90" width="18.40" height="6.00" rx="3.00" fill="#222" opacity="0.28" filter="url(#b2)"/>
<rect x="405.40" y="326.30" width="16.00" height="3.20" rx="1.60" fill="#0c0c0c" opacity="1" filter="url(#b1)"/>
<rect x="426.20" y="324.30" width="17.40" height="5.80" rx="2.90" fill="#222" opacity="0.28" filter="url(#b2)"/>
<rect x="427.40" y="325.70" width="15.00" height="3.00" rx="1.50" fill="#1c1c1c" opacity="0.9" filter="url(#b1)"/>
<rect x="449.70" y="325.60" width="15.40" height="2.60" rx="1.30" fill="#222" opacity="0.85" filter="url(#b1)"/>
</g>
<rect x="380.00" y="339.80" width="89.40" height="13.00" fill="#e2e2e2"/>
<g clip-path="url(#bc2)">
<rect x="382.60" y="343.30" width="18.40" height="5.80" rx="2.90" fill="#222" opacity="0.28" filter="url(#b2)"/>
<rect x="383.80" y="344.70" width="16.00" height="3.00" rx="1.50" fill="#444" opacity="0.85" filter="url(#b1)"/>
<rect x="404.20" y="343.30" width="18.40" height="6.20" rx="3.10" fill="#222" opacity="0.28" filter="url(#b2)"/>
<rect x="405.40" y="344.70" width="16.00" height="3.40" rx="1.70" fill="#222" opacity="0.95" filter="url(#b1)"/>
<rect x="428.40" y="344.70" width="13.00" height="3.00" rx="1.50" fill="#999" opacity="0.45" filter="url(#b1)"/>
<rect x="450.90" y="345.10" width="13.00" height="3.00" rx="1.50" fill="#aaa" opacity="0.35" filter="url(#b1)"/>
</g>
<rect x="380.00" y="357.60" width="91.40" height="17.00" fill="#dcdcdc"/>
<g clip-path="url(#bc3)">
<rect x="381.90" y="359.80" width="20.20" height="12.20" rx="5.00" fill="#222" opacity="0.28" filter="url(#b2)"/>
<rect x="383.10" y="361.20" width="17.80" height="9.40" rx="4.60" fill="#000" opacity="1" filter="url(#b1)"/>
<rect x="402.70" y="359.70" width="21.40" height="12.40" rx="5.00" fill="#222" opacity="0.28" filter="url(#b2)"/>
<rect x="403.90" y="361.10" width="19.00" height="9.60" rx="4.60" fill="#000" opacity="1" filter="url(#b1)"/>
<rect x="424.40" y="359.80" width="21.00" height="12.20" rx="5.00" fill="#222" opacity="0.28" filter="url(#b2)"/>
<rect x="425.60" y="361.20" width="18.60" height="9.40" rx="4.60" fill="#000" opacity="1" filter="url(#b1)"/>
<rect x="446.30" y="359.90" width="21.40" height="12.00" rx="5.00" fill="#222" opacity="0.28" filter="url(#b2)"/>
<rect x="447.50" y="361.30" width="19.00" height="9.20" rx="4.60" fill="#000" opacity="1" filter="url(#b1)"/>
</g>
<text x="357.00" y="329.20" font-size="6.7" font-weight="bold" text-anchor="middle" fill="#111" stroke="#111" stroke-width="0.22">CHEK1</text>
<text x="357.00" y="345.00" font-size="6.7" font-weight="bold" text-anchor="middle" fill="#111" stroke="#111" stroke-width="0.22">pCHEK1</text>
<text x="357.00" y="352.13" font-size="6.5" font-weight="bold" text-anchor="middle" fill="#111" stroke="#111" stroke-width="0.22">(Ser296)</text>
<text x="357.00" y="367.60" font-size="6.7" font-weight="bold" text-anchor="middle" fill="#111" stroke="#111" stroke-width="0.22">β-Actin</text>
<text x="2.60" y="405.30" font-size="14.8" font-weight="bold" fill="#000" stroke="#000" stroke-width="0.22">E</text>
<text x="104.80" y="404.11" font-size="7.0" font-weight="bold" text-anchor="middle" fill="#111" stroke="#111" stroke-width="0.22">Prex.</text>
<text x="74.60" y="412.31" font-size="7.0" font-weight="bold" text-anchor="middle" fill="#111" stroke="#111" stroke-width="0.22">0 nmol/L</text>
<text x="135.20" y="412.31" font-size="7.0" font-weight="bold" text-anchor="middle" fill="#111" stroke="#111" stroke-width="0.22">100 nmol/L</text>
<text x="24.90" y="438.99" font-size="7.8" font-weight="bold" text-anchor="middle" fill="#111" stroke="#111" stroke-width="0.22">SK-UT-1</text>
<text x="25.00" y="487.99" font-size="7.8" font-weight="bold" text-anchor="middle" fill="#111" stroke="#111" stroke-width="0.22">SK-LMS-1</text>
<text x="24.40" y="534.99" font-size="7.8" font-weight="bold" text-anchor="middle" fill="#111" stroke="#111" stroke-width="0.22">SKN</text>
<rect x="47.10" y="415.20" width="57.00" height="44.70" fill="#030309"/>
<g clip-path="url(#m1)">
<ellipse cx="61.00" cy="416.60" rx="4.2" ry="2.6" fill="#1a1c6e" filter="url(#c1)"/>
<ellipse cx="85.80" cy="419.20" rx="5.6" ry="4" fill="#1a1c6e" filter="url(#c1)"/>
<ellipse cx="85.80" cy="419.20" rx="3.6" ry="2.4" fill="#1e2080" filter="url(#c1)"/>
<ellipse cx="81.80" cy="437.10" rx="5.6" ry="4.6" fill="#1a1c6e" filter="url(#c1)"/>
<ellipse cx="81.80" cy="437.10" rx="3.4" ry="2.8" fill="#1e2080" filter="url(#c1)"/>
<ellipse cx="96.50" cy="447.50" rx="4.6" ry="5.6" fill="#1f2490" filter="url(#c1)"/>
<ellipse cx="96.50" cy="447.50" rx="3.2" ry="4.2" fill="#2830b2" filter="url(#c1)"/>
<ellipse cx="96.30" cy="447.00" rx="1.6" ry="2.2" fill="#3444c8" filter="url(#c1)"/>
<ellipse cx="70.80" cy="454.40" rx="5.6" ry="4.1" fill="#1f2490" transform="rotate(-8 70.80 454.40)" filter="url(#c1)"/>
<ellipse cx="70.80" cy="454.40" rx="4.2" ry="2.9" fill="#2830b2" transform="rotate(-8 70.80 454.40)" filter="url(#c1)"/>
<ellipse cx="70.80" cy="454.20" rx="2.2" ry="1.4" fill="#3444c8" transform="rotate(-8 70.80 454.20)" filter="url(#c1)"/>
<ellipse cx="47.60" cy="455.00" rx="1.6" ry="2.6" fill="#10103c" filter="url(#c1)"/>
<ellipse cx="69.70" cy="434.80" rx="3.2" ry="3.8" fill="#1a1c6e" filter="url(#c1)"/>
<ellipse cx="69.70" cy="434.60" rx="1.8" ry="2.4" fill="#1e2080" filter="url(#c1)"/>
<ellipse cx="68.40" cy="431.20" rx="0.8" ry="0.7" fill="#1f7a5c" filter="url(#c0)"/>
<ellipse cx="71.60" cy="430.80" rx="0.8" ry="0.7" fill="#1f7a5c" filter="url(#c0)"/>
<ellipse cx="65.20" cy="433.60" rx="0.6" ry="0.6" fill="#1f7a5c" filter="url(#c0)"/>
<ellipse cx="72.60" cy="432.60" rx="0.5" ry="0.5" fill="#1f7a5c" filter="url(#c0)"/>
</g>
<rect x="94.90" y="456.70" width="6.00" height="1.70" fill="#fff"/>
<rect x="107.10" y="415.20" width="57.00" height="44.70" fill="#030309"/>
<g clip-path="url(#m2)">
<ellipse cx="119.80" cy="420.90" rx="4.6" ry="4.4" fill="#2a9cc0" filter="url(#c1)"/>
<ellipse cx="117.60" cy="421.60" rx="1.8" ry="2.2" fill="#38c0d8" filter="url(#c0)"/>
<ellipse cx="122.40" cy="422.40" rx="1.6" ry="1.6" fill="#38b8d8" filter="url(#c0)"/>
<ellipse cx="120.40" cy="418.60" rx="1.6" ry="1.4" fill="#34b0d0" filter="url(#c0)"/>
<ellipse cx="120.40" cy="421.20" rx="1.5" ry="1.7" fill="#1c2c98" filter="url(#c0)"/>
<ellipse cx="153.30" cy="419.20" rx="3.8" ry="4.6" fill="#1f2490" transform="rotate(25 153.30 419.20)" filter="url(#c1)"/>
<ellipse cx="153.30" cy="419.20" rx="2.6" ry="3.4" fill="#2c44bc" transform="rotate(25 153.30 419.20)" filter="url(#c1)"/>
<ellipse cx="141.20" cy="431.90" rx="3.4" ry="6.6" fill="#1f2490" transform="rotate(-38 141.20 431.90)" filter="url(#c1)"/>
<ellipse cx="141.20" cy="431.90" rx="2.2" ry="5.2" fill="#2c48c4" transform="rotate(-38 141.20 431.90)" filter="url(#c1)"/>
<ellipse cx="157.30" cy="432.50" rx="4.8" ry="4.6" fill="#2fa8cc" filter="url(#c1)"/>
<ellipse cx="157.30" cy="432.90" rx="2.8" ry="2.6" fill="#2858c8" filter="url(#c0)"/>
<ellipse cx="126.80" cy="440.50" rx="5.0" ry="5.2" fill="#164a5c" filter="url(#c1)"/>
<ellipse cx="124.60" cy="438.00" rx="1.6" ry="1.5" fill="#2a94a0" filter="url(#c0)"/>
<ellipse cx="129.40" cy="437.60" rx="1.6" ry="1.4" fill="#2a94a0" filter="url(#c0)"/>
<ellipse cx="124.40" cy="443.60" rx="1.5" ry="1.5" fill="#2a94a0" filter="url(#c0)"/>
<ellipse cx="129.00" cy="443.40" rx="1.6" ry="1.5" fill="#2a90a0" filter="url(#c0)"/>
<ellipse cx="127.00" cy="440.60" rx="1.6" ry="1.8" fill="#181c60" filter="url(#c0)"/>
<ellipse cx="138.90" cy="444.00" rx="3.5" ry="4.6" fill="#2c88d0" filter="url(#c1)"/>
<ellipse cx="139.30" cy="444.20" rx="2.2" ry="3.2" fill="#40b0e8" filter="url(#c0)"/>
<ellipse cx="148.70" cy="449.20" rx="4.0" ry="3.8" fill="#2c80cc" filter="url(#c1)"/>
<ellipse cx="148.90" cy="449.40" rx="2.4" ry="2.2" fill="#38a0e0" filter="url(#c0)"/>
<ellipse cx="114.70" cy="455.00" rx="4.4" ry="5.2" fill="#2870c0" transform="rotate(15 114.70 455.00)" filter="url(#c1)"/>
<ellipse cx="114.90" cy="455.20" rx="2.8" ry="3.6" fill="#2c8cd0" transform="rotate(15 114.90 455.20)" filter="url(#c0)"/>
</g>
<rect x="154.90" y="456.70" width="6.00" height="1.70" fill="#fff"/>
<rect x="47.10" y="463.00" width="57.00" height="44.70" fill="#030309"/>
<g clip-path="url(#m3)">
<ellipse cx="53.80" cy="478.20" rx="5.6" ry="7.6" fill="#1f2490" transform="rotate(10 53.80 478.20)" filter="url(#c1)"/>
<ellipse cx="53.80" cy="478.20" rx="4.2" ry="6.2" fill="#2830b2" transform="rotate(10 53.80 478.20)" filter="url(#c1)"/>
<ellipse cx="53.60" cy="477.60" rx="2.4" ry="3.8" fill="#303cc4" transform="rotate(10 53.60 477.60)" filter="url(#c1)"/>
<ellipse cx="91.60" cy="470.10" rx="6.2" ry="5.4" fill="#1a1c6e" filter="url(#c1)"/>
<ellipse cx="91.60" cy="470.10" rx="4.4" ry="3.8" fill="#20228a" filter="url(#c1)"/>
<ellipse cx="102.20" cy="482.20" rx="3.4" ry="6.6" fill="#1f2490" filter="url(#c1)"/>
<ellipse cx="102.60" cy="482.20" rx="2.2" ry="5.0" fill="#2830b2" filter="url(#c1)"/>
<ellipse cx="69.10" cy="495.50" rx="5.6" ry="8.0" fill="#1f2490" transform="rotate(10 69.10 495.50)" filter="url(#c1)"/>
<ellipse cx="69.10" cy="495.50" rx="4.2" ry="6.6" fill="#2830b2" transform="rotate(10 69.10 495.50)" filter="url(#c1)"/>
<ellipse cx="69.00" cy="495.00" rx="2.4" ry="4.0" fill="#303cc4" transform="rotate(10 69.00 495.00)" filter="url(#c1)"/>
<ellipse cx="87.00" cy="492.00" rx="6.6" ry="4.6" fill="#1a1c6e" transform="rotate(-10 87.00 492.00)" filter="url(#c1)"/>
<ellipse cx="87.00" cy="492.00" rx="5.0" ry="3.2" fill="#222494" transform="rotate(-10 87.00 492.00)" filter="url(#c1)"/>
<ellipse cx="87.00" cy="503.60" rx="7" ry="4" fill="#1a1c6e" filter="url(#c1)"/>
<ellipse cx="87.00" cy="503.80" rx="5.4" ry="2.8" fill="#20228c" filter="url(#c1)"/>
</g>
<rect x="94.90" y="504.50" width="6.00" height="1.70" fill="#fff"/>
<rect x="107.10" y="463.00" width="57.00" height="44.70" fill="#030309"/>
<g clip-path="url(#m4)">
<ellipse cx="116.40" cy="477.60" rx="5.6" ry="3.6" fill="#1f2490" transform="rotate(-20 116.40 477.60)" filter="url(#c1)"/>
<ellipse cx="116.40" cy="477.60" rx="4.2" ry="2.5" fill="#2c3abc" transform="rotate(-20 116.40 477.60)" filter="url(#c1)"/>
<ellipse cx="134.30" cy="476.40" rx="5.6" ry="9" fill="#2a9a88" transform="rotate(-15 134.30 476.40)" filter="url(#c1)"/>
<ellipse cx="134.50" cy="476.60" rx="4.0" ry="7.4" fill="#1f6c90" transform="rotate(-15 134.50 476.60)" filter="url(#c0)"/>
<ellipse cx="151.00" cy="469.50" rx="4.0" ry="4.4" fill="#3444cc" filter="url(#c1)"/>
<ellipse cx="151.00" cy="469.80" rx="2.4" ry="2.6" fill="#4860e0" filter="url(#c0)"/>
<ellipse cx="147.60" cy="464.20" rx="3.0" ry="1.6" fill="#1f2490" filter="url(#c1)"/>
<ellipse cx="155.00" cy="482.80" rx="7" ry="5.6" fill="#1f2490" filter="url(#c1)"/>
<ellipse cx="155.00" cy="482.80" rx="5.4" ry="4.2" fill="#2a3abc" filter="url(#c1)"/>
<ellipse cx="116.20" cy="496.00" rx="7.6" ry="6.0" fill="#2fae90" transform="rotate(-30 116.20 496.00)" filter="url(#c1)"/>
<ellipse cx="116.60" cy="496.20" rx="6.0" ry="4.5" fill="#2088a8" transform="rotate(-30 116.60 496.20)" filter="url(#c0)"/>
<ellipse cx="147.00" cy="504.70" rx="7" ry="4" fill="#1f2490" filter="url(#c1)"/>
<ellipse cx="147.00" cy="504.70" rx="5.4" ry="2.8" fill="#2c3cc0" filter="url(#c1)"/>
</g>
<rect x="154.90" y="504.50" width="6.00" height="1.70" fill="#fff"/>
<rect x="47.10" y="511.20" width="57.00" height="45.40" fill="#030309"/>
<g clip-path="url(#m5)">
<ellipse cx="73.90" cy="519.50" rx="5.6" ry="4.1" fill="#1f2490" filter="url(#c1)"/>
<ellipse cx="73.90" cy="519.50" rx="4.3" ry="3.0" fill="#2c3abc" filter="url(#c1)"/>
<ellipse cx="72.40" cy="519.80" rx="1.8" ry="1.4" fill="#4860e0" filter="url(#c0)"/>
<ellipse cx="76.20" cy="518.00" rx="0.9" ry="0.8" fill="#141c80" filter="url(#c0)"/>
<ellipse cx="92.70" cy="521.00" rx="4.6" ry="5.6" fill="#1f2490" filter="url(#c1)"/>
<ellipse cx="92.70" cy="521.00" rx="3.2" ry="4.0" fill="#2c34b8" filter="url(#c1)"/>
<ellipse cx="76.20" cy="528.20" rx="4.4" ry="2.8" fill="#1a1c6e" filter="url(#c1)"/>
<ellipse cx="98.50" cy="532.20" rx="4.6" ry="2.8" fill="#1f2490" filter="url(#c1)"/>
<ellipse cx="98.50" cy="532.20" rx="3.2" ry="1.8" fill="#2c3abc" filter="url(#c1)"/>
<ellipse cx="49.50" cy="530.50" rx="2.4" ry="3.4" fill="#1f2490" filter="url(#c1)"/>
<ellipse cx="54.70" cy="544.60" rx="4.8" ry="2.9" fill="#1f2490" transform="rotate(15 54.70 544.60)" filter="url(#c1)"/>
<ellipse cx="54.70" cy="544.60" rx="3.2" ry="1.7" fill="#2c34b8" transform="rotate(15 54.70 544.60)" filter="url(#c1)"/>
<ellipse cx="64.50" cy="543.50" rx="4.6" ry="3.2" fill="#1f2490" transform="rotate(35 64.50 543.50)" filter="url(#c1)"/>
<ellipse cx="64.50" cy="543.50" rx="3.0" ry="1.9" fill="#2c34b8" transform="rotate(35 64.50 543.50)" filter="url(#c1)"/>
<ellipse cx="99.30" cy="549.40" rx="2.8" ry="3.4" fill="#1f2490" filter="url(#c1)"/>
</g>
<rect x="94.90" y="552.70" width="6.00" height="1.70" fill="#fff"/>
<rect x="107.10" y="511.20" width="57.00" height="45.40" fill="#030309"/>
<g clip-path="url(#m6)">
<ellipse cx="142.00" cy="519.20" rx="3.6" ry="7.6" fill="#2c84d0" transform="rotate(36 142.00 519.20)" filter="url(#c1)"/>
<ellipse cx="143.20" cy="517.60" rx="2.2" ry="4.6" fill="#40a8e8" transform="rotate(36 143.20 517.60)" filter="url(#c0)"/>
<ellipse cx="138.60" cy="523.80" rx="2.2" ry="2.4" fill="#2fb09c" filter="url(#c1)"/>
<ellipse cx="158.50" cy="514.00" rx="3.4" ry="3.0" fill="#1f2490" filter="url(#c1)"/>
<ellipse cx="151.60" cy="530.20" rx="5.6" ry="3.4" fill="#2c78cc" transform="rotate(20 151.60 530.20)" filter="url(#c1)"/>
<ellipse cx="151.60" cy="530.20" rx="4.0" ry="2.2" fill="#3894e0" transform="rotate(20 151.60 530.20)" filter="url(#c0)"/>
<ellipse cx="117.20" cy="531.40" rx="3.4" ry="2.4" fill="#25888c" filter="url(#c1)"/>
<ellipse cx="121.60" cy="532.60" rx="3.2" ry="2.6" fill="#288c98" filter="url(#c1)"/>
<ellipse cx="125.20" cy="536.40" rx="2.8" ry="3.6" fill="#2a98b8" filter="url(#c1)"/>
<ellipse cx="125.80" cy="537.60" rx="1.6" ry="2.2" fill="#34a8d8" filter="url(#c0)"/>
<ellipse cx="123.20" cy="540.60" rx="2.0" ry="1.6" fill="#25888c" filter="url(#c1)"/>
<ellipse cx="139.50" cy="540.60" rx="4.8" ry="5.6" fill="#3080d4" filter="url(#c1)"/>
<ellipse cx="139.50" cy="540.80" rx="3.2" ry="4.0" fill="#2c50c8" filter="url(#c0)"/>
<ellipse cx="139.80" cy="541.40" rx="1.2" ry="1.4" fill="#1c2c98" filter="url(#c0)"/>
<ellipse cx="116.40" cy="553.40" rx="4.6" ry="2.6" fill="#26888c" filter="url(#c1)"/>
<ellipse cx="122.00" cy="554.60" rx="4.4" ry="2.2" fill="#2c64c0" filter="url(#c1)"/>
</g>
<rect x="154.90" y="552.70" width="6.00" height="1.70" fill="#fff"/>
<text x="122.40" y="564.40" font-size="6.7" font-weight="bold" text-anchor="middle" fill="#3f8f45" stroke="#3f8f45" stroke-width="0.22">Green:</text>
<text x="148.20" y="564.40" font-size="6.7" font-weight="bold" text-anchor="middle" fill="#3f8f45" stroke="#3f8f45" stroke-width="0.22">γH2AX</text>
<text x="120.60" y="572.80" font-size="6.7" font-weight="bold" text-anchor="middle" fill="#2b2a9a" stroke="#2b2a9a" stroke-width="0.22">Blue:</text>
<text x="150.80" y="572.80" font-size="6.7" font-weight="bold" text-anchor="middle" fill="#2b2a9a" stroke="#2b2a9a" stroke-width="0.22">Hoechst</text>
<line x1="38.50" y1="656.29" x2="154.50" y2="656.29" stroke="#cfcfcf" stroke-width="0.6"/>
<line x1="36.50" y1="656.29" x2="38.50" y2="656.29" stroke="#111" stroke-width="0.6"/>
<line x1="38.50" y1="652.88" x2="154.50" y2="652.88" stroke="#cfcfcf" stroke-width="0.6"/>
<line x1="36.50" y1="652.88" x2="38.50" y2="652.88" stroke="#111" stroke-width="0.6"/>
<line x1="38.50" y1="649.46" x2="154.50" y2="649.46" stroke="#cfcfcf" stroke-width="0.6"/>
<line x1="36.50" y1="649.46" x2="38.50" y2="649.46" stroke="#111" stroke-width="0.6"/>
<line x1="38.50" y1="646.05" x2="154.50" y2="646.05" stroke="#cfcfcf" stroke-width="0.6"/>
<line x1="36.50" y1="646.05" x2="38.50" y2="646.05" stroke="#111" stroke-width="0.6"/>
<line x1="38.50" y1="642.64" x2="154.50" y2="642.64" stroke="#cfcfcf" stroke-width="0.6"/>
<line x1="36.50" y1="642.64" x2="38.50" y2="642.64" stroke="#111" stroke-width="0.6"/>
<line x1="38.50" y1="639.23" x2="154.50" y2="639.23" stroke="#cfcfcf" stroke-width="0.6"/>
<line x1="36.50" y1="639.23" x2="38.50" y2="639.23" stroke="#111" stroke-width="0.6"/>
<line x1="38.50" y1="635.81" x2="154.50" y2="635.81" stroke="#cfcfcf" stroke-width="0.6"/>
<line x1="36.50" y1="635.81" x2="38.50" y2="635.81" stroke="#111" stroke-width="0.6"/>
<line x1="38.50" y1="632.40" x2="154.50" y2="632.40" stroke="#cfcfcf" stroke-width="0.6"/>
<line x1="36.50" y1="632.40" x2="38.50" y2="632.40" stroke="#111" stroke-width="0.6"/>
<line x1="38.50" y1="628.99" x2="154.50" y2="628.99" stroke="#cfcfcf" stroke-width="0.6"/>
<line x1="36.50" y1="628.99" x2="38.50" y2="628.99" stroke="#111" stroke-width="0.6"/>
<line x1="38.50" y1="625.58" x2="154.50" y2="625.58" stroke="#cfcfcf" stroke-width="0.6"/>
<line x1="36.50" y1="625.58" x2="38.50" y2="625.58" stroke="#111" stroke-width="0.6"/>
<line x1="38.50" y1="622.16" x2="154.50" y2="622.16" stroke="#cfcfcf" stroke-width="0.6"/>
<line x1="36.50" y1="622.16" x2="38.50" y2="622.16" stroke="#111" stroke-width="0.6"/>
<line x1="38.50" y1="618.75" x2="154.50" y2="618.75" stroke="#cfcfcf" stroke-width="0.6"/>
<line x1="36.50" y1="618.75" x2="38.50" y2="618.75" stroke="#111" stroke-width="0.6"/>
<line x1="38.50" y1="615.34" x2="154.50" y2="615.34" stroke="#cfcfcf" stroke-width="0.6"/>
<line x1="36.50" y1="615.34" x2="38.50" y2="615.34" stroke="#111" stroke-width="0.6"/>
<line x1="38.50" y1="611.93" x2="154.50" y2="611.93" stroke="#cfcfcf" stroke-width="0.6"/>
<line x1="36.50" y1="611.93" x2="38.50" y2="611.93" stroke="#111" stroke-width="0.6"/>
<line x1="38.50" y1="608.51" x2="154.50" y2="608.51" stroke="#cfcfcf" stroke-width="0.6"/>
<line x1="36.50" y1="608.51" x2="38.50" y2="608.51" stroke="#111" stroke-width="0.6"/>
<line x1="38.50" y1="605.10" x2="154.50" y2="605.10" stroke="#cfcfcf" stroke-width="0.6"/>
<line x1="36.50" y1="605.10" x2="38.50" y2="605.10" stroke="#111" stroke-width="0.6"/>
<text x="35.20" y="662.35" font-size="7.4" text-anchor="end" textLength="4.50" lengthAdjust="spacingAndGlyphs" stroke="#222" stroke-width="0.16">0</text>
<line x1="36.10" y1="659.70" x2="38.50" y2="659.70" stroke="#111" stroke-width="0.7"/>
<text x="35.20" y="648.70" font-size="7.4" text-anchor="end" textLength="9.00" lengthAdjust="spacingAndGlyphs" stroke="#222" stroke-width="0.16">20</text>
<line x1="36.10" y1="646.05" x2="38.50" y2="646.05" stroke="#111" stroke-width="0.7"/>
<text x="35.20" y="635.05" font-size="7.4" text-anchor="end" textLength="9.00" lengthAdjust="spacingAndGlyphs" stroke="#222" stroke-width="0.16">40</text>
<line x1="36.10" y1="632.40" x2="38.50" y2="632.40" stroke="#111" stroke-width="0.7"/>
<text x="35.20" y="621.40" font-size="7.4" text-anchor="end" textLength="9.00" lengthAdjust="spacingAndGlyphs" stroke="#222" stroke-width="0.16">60</text>
<line x1="36.10" y1="618.75" x2="38.50" y2="618.75" stroke="#111" stroke-width="0.7"/>
<text x="35.20" y="607.75" font-size="7.4" text-anchor="end" textLength="9.00" lengthAdjust="spacingAndGlyphs" stroke="#222" stroke-width="0.16">80</text>
<line x1="36.10" y1="605.10" x2="38.50" y2="605.10" stroke="#111" stroke-width="0.7"/>
<rect x="48.20" y="655.26" width="6.70" height="4.44" fill="url(#gGy)" stroke="#333" stroke-width="0.7"/>
<line x1="51.55" y1="654.79" x2="51.55" y2="655.74" stroke="#222" stroke-width="0.6"/>
<line x1="50.25" y1="654.79" x2="52.85" y2="654.79" stroke="#222" stroke-width="0.6"/>
<line x1="50.25" y1="655.74" x2="52.85" y2="655.74" stroke="#222" stroke-width="0.6"/>
<rect x="60.90" y="607.15" width="6.70" height="52.55" fill="url(#gGr)" stroke="#2f6a1c" stroke-width="0.7"/>
<line x1="64.25" y1="605.78" x2="64.25" y2="608.51" stroke="#222" stroke-width="0.6"/>
<line x1="62.95" y1="605.78" x2="65.55" y2="605.78" stroke="#222" stroke-width="0.6"/>
<line x1="62.95" y1="608.51" x2="65.55" y2="608.51" stroke="#222" stroke-width="0.6"/>
<rect x="87.80" y="651.85" width="6.70" height="7.85" fill="url(#gGy)" stroke="#333" stroke-width="0.7"/>
<line x1="91.15" y1="651.31" x2="91.15" y2="652.40" stroke="#222" stroke-width="0.6"/>
<line x1="89.85" y1="651.31" x2="92.45" y2="651.31" stroke="#222" stroke-width="0.6"/>
<line x1="89.85" y1="652.40" x2="92.45" y2="652.40" stroke="#222" stroke-width="0.6"/>
<rect x="100.90" y="623.53" width="6.70" height="36.17" fill="url(#gGr)" stroke="#2f6a1c" stroke-width="0.7"/>
<line x1="104.25" y1="622.57" x2="104.25" y2="624.48" stroke="#222" stroke-width="0.6"/>
<line x1="102.95" y1="622.57" x2="105.55" y2="622.57" stroke="#222" stroke-width="0.6"/>
<line x1="102.95" y1="624.48" x2="105.55" y2="624.48" stroke="#222" stroke-width="0.6"/>
<rect x="127.60" y="655.26" width="6.70" height="4.44" fill="url(#gGy)" stroke="#333" stroke-width="0.7"/>
<line x1="130.95" y1="654.72" x2="130.95" y2="655.81" stroke="#222" stroke-width="0.6"/>
<line x1="129.65" y1="654.72" x2="132.25" y2="654.72" stroke="#222" stroke-width="0.6"/>
<line x1="129.65" y1="655.81" x2="132.25" y2="655.81" stroke="#222" stroke-width="0.6"/>
<rect x="140.40" y="616.70" width="6.70" height="43.00" fill="url(#gGr)" stroke="#2f6a1c" stroke-width="0.7"/>
<line x1="143.75" y1="611.93" x2="143.75" y2="621.48" stroke="#222" stroke-width="0.6"/>
<line x1="142.45" y1="611.93" x2="145.05" y2="611.93" stroke="#222" stroke-width="0.6"/>
<line x1="142.45" y1="621.48" x2="145.05" y2="621.48" stroke="#222" stroke-width="0.6"/>
<line x1="38.50" y1="602.40" x2="38.50" y2="661.70" stroke="#111" stroke-width="1.2"/>
<line x1="36.10" y1="659.70" x2="154.50" y2="659.70" stroke="#111" stroke-width="1.3"/>
<polyline points="49.80,601.90 49.80,599.80 66.20,599.80 66.20,601.90" fill="none" stroke="#222" stroke-width="0.8"/>
<text x="58.00" y="599.42" font-size="8.5" font-weight="bold" text-anchor="middle" fill="#111" stroke="#111" stroke-width="0.22">***</text>
<polyline points="89.40,601.90 89.40,599.80 105.80,599.80 105.80,601.90" fill="none" stroke="#222" stroke-width="0.8"/>
<text x="97.60" y="599.42" font-size="8.5" font-weight="bold" text-anchor="middle" fill="#111" stroke="#111" stroke-width="0.22">***</text>
<polyline points="128.60,601.90 128.60,599.80 145.40,599.80 145.40,601.90" fill="none" stroke="#222" stroke-width="0.8"/>
<text x="137.00" y="599.42" font-size="8.5" font-weight="bold" text-anchor="middle" fill="#111" stroke="#111" stroke-width="0.22">*</text>
<text x="57.70" y="670.79" font-size="7.8" font-weight="bold" text-anchor="middle" fill="#111" stroke="#111" stroke-width="0.22">SK-UT-1</text>
<text x="99.40" y="670.79" font-size="7.8" font-weight="bold" text-anchor="middle" fill="#111" stroke="#111" stroke-width="0.22">SK-LMS-1</text>
<text x="137.70" y="670.79" font-size="7.8" font-weight="bold" text-anchor="middle" fill="#111" stroke="#111" stroke-width="0.22">SKN</text>
<text x="18.60" y="629.87" font-size="6.9" text-anchor="middle" transform="rotate(-90 18.60 627.40)" stroke="#222" stroke-width="0.16">γH2AX-positive cells (%)</text>
<text x="158.20" y="594.47" font-size="6.9" font-weight="bold" fill="#111" stroke="#111" stroke-width="0.22">Prex. (nmol/L)</text>
<rect x="160.60" y="598.40" width="5.50" height="5.30" fill="#dcdcdc" stroke="#333" stroke-width="0.8"/>
<rect x="160.60" y="609.00" width="5.50" height="5.30" fill="#6aa43c" stroke="#2f6a1c" stroke-width="0.8"/>
<text x="183.20" y="604.51" font-size="7.0" font-weight="bold" text-anchor="middle" fill="#111" stroke="#111" stroke-width="0.22">0</text>
<text x="180.00" y="614.71" font-size="7.0" font-weight="bold" text-anchor="middle" fill="#111" stroke="#111" stroke-width="0.22">100</text>
<text x="201.00" y="404.99" font-size="14.5" font-weight="bold" fill="#000" stroke="#000" stroke-width="0.22">F</text>
<text x="230.40" y="422.59" font-size="7.8" font-weight="bold" text-anchor="middle" fill="#111" stroke="#111" stroke-width="0.22">SK-UT-1</text>
<text x="298.40" y="422.34" font-size="7.1" font-weight="bold" text-anchor="middle" fill="#111" stroke="#111" stroke-width="0.22">Cisplatin (µmol/L)</text>
<text x="258.70" y="433.27" font-size="6.9" font-weight="bold" text-anchor="middle" fill="#111" stroke="#111" stroke-width="0.22">0</text>
<text x="278.90" y="433.27" font-size="6.9" font-weight="bold" text-anchor="middle" fill="#111" stroke="#111" stroke-width="0.22">1</text>
<text x="299.10" y="433.27" font-size="6.9" font-weight="bold" text-anchor="middle" fill="#111" stroke="#111" stroke-width="0.22">2</text>
<text x="319.30" y="433.27" font-size="6.9" font-weight="bold" text-anchor="middle" fill="#111" stroke="#111" stroke-width="0.22">4</text>
<text x="339.50" y="433.27" font-size="6.9" font-weight="bold" text-anchor="middle" fill="#111" stroke="#111" stroke-width="0.22">8</text>
<text x="245.20" y="446.47" font-size="6.7" font-weight="bold" text-anchor="end" fill="#111" stroke="#111" stroke-width="0.22">0</text>
<rect x="248.60" y="436.00" width="20.20" height="14.15" fill="#ffffff"/>
<rect x="268.80" y="436.00" width="20.20" height="14.15" fill="#ffffff"/>
<rect x="289.00" y="436.00" width="20.20" height="14.15" fill="#ded4ea"/>
<rect x="309.20" y="436.00" width="20.20" height="14.15" fill="#c4acd6"/>
<rect x="329.40" y="436.00" width="20.20" height="14.15" fill="#bb63aa"/>
<text x="245.20" y="460.62" font-size="6.7" font-weight="bold" text-anchor="end" fill="#111" stroke="#111" stroke-width="0.22">1</text>
<rect x="248.60" y="450.15" width="20.20" height="14.15" fill="#ffffff"/>
<rect x="268.80" y="450.15" width="20.20" height="14.15" fill="#e0d6ec"/>
<rect x="289.00" y="450.15" width="20.20" height="14.15" fill="#c8b4da"/>
<rect x="309.20" y="450.15" width="20.20" height="14.15" fill="#ba4a98"/>
<rect x="329.40" y="450.15" width="20.20" height="14.15" fill="#a11a5e"/>
<text x="245.20" y="474.77" font-size="6.7" font-weight="bold" text-anchor="end" fill="#111" stroke="#111" stroke-width="0.22">2</text>
<rect x="248.60" y="464.30" width="20.20" height="14.15" fill="#b892ca"/>
<rect x="268.80" y="464.30" width="20.20" height="14.15" fill="#bc58a2"/>
<rect x="289.00" y="464.30" width="20.20" height="14.15" fill="#b32b78"/>
<rect x="309.20" y="464.30" width="20.20" height="14.15" fill="#961653"/>
<rect x="329.40" y="464.30" width="20.20" height="14.15" fill="#7a1a42"/>
<text x="245.20" y="488.92" font-size="6.7" font-weight="bold" text-anchor="end" fill="#111" stroke="#111" stroke-width="0.22">4</text>
<rect x="248.60" y="478.45" width="20.20" height="14.15" fill="#9e165a"/>
<rect x="268.80" y="478.45" width="20.20" height="14.15" fill="#841446"/>
<rect x="289.00" y="478.45" width="20.20" height="14.15" fill="#7c1843"/>
<rect x="309.20" y="478.45" width="20.20" height="14.15" fill="#621432"/>
<rect x="329.40" y="478.45" width="20.20" height="14.15" fill="#56162c"/>
<text x="258.70" y="446.87" font-size="7.8" font-weight="bold" text-anchor="middle" fill="#1a1a1a" stroke="#1a1a1a" stroke-width="0.22">0</text>
<text x="278.90" y="446.87" font-size="7.8" font-weight="bold" text-anchor="middle" fill="#1a1a1a" stroke="#1a1a1a" stroke-width="0.22">10</text>
<text x="299.10" y="446.87" font-size="7.8" font-weight="bold" text-anchor="middle" fill="#1a1a1a" stroke="#1a1a1a" stroke-width="0.22">22</text>
<text x="319.30" y="446.87" font-size="7.8" font-weight="bold" text-anchor="middle" fill="#1a1a1a" stroke="#1a1a1a" stroke-width="0.22">37</text>
<text x="339.50" y="446.87" font-size="7.8" font-weight="bold" text-anchor="middle" fill="#4e224c" stroke="#4e224c" stroke-width="0.22">53</text>
<text x="258.70" y="461.02" font-size="7.8" font-weight="bold" text-anchor="middle" fill="#1a1a1a" stroke="#1a1a1a" stroke-width="0.22">9</text>
<text x="278.90" y="461.02" font-size="7.8" font-weight="bold" text-anchor="middle" fill="#1a1a1a" stroke="#1a1a1a" stroke-width="0.22">20</text>
<text x="299.10" y="461.02" font-size="7.8" font-weight="bold" text-anchor="middle" fill="#1a1a1a" stroke="#1a1a1a" stroke-width="0.22">35</text>
<text x="319.30" y="461.02" font-size="7.8" font-weight="bold" text-anchor="middle" fill="#4e1944" stroke="#4e1944" stroke-width="0.22">57</text>
<text x="339.50" y="461.02" font-size="7.8" font-weight="bold" text-anchor="middle" fill="#43092a" stroke="#43092a" stroke-width="0.22">75</text>
<text x="258.70" y="475.17" font-size="7.8" font-weight="bold" text-anchor="middle" fill="#3a2a50" stroke="#3a2a50" stroke-width="0.22">41</text>
<text x="278.90" y="475.17" font-size="7.8" font-weight="bold" text-anchor="middle" fill="#4e1e48" stroke="#4e1e48" stroke-width="0.22">55</text>
<text x="299.10" y="475.17" font-size="7.8" font-weight="bold" text-anchor="middle" fill="#4b0f36" stroke="#4b0f36" stroke-width="0.22">68</text>
<text x="319.30" y="475.17" font-size="7.8" font-weight="bold" text-anchor="middle" fill="#3f0725" stroke="#3f0725" stroke-width="0.22">79</text>
<text x="339.50" y="475.17" font-size="7.8" font-weight="bold" text-anchor="middle" fill="#fff" stroke="#fff" stroke-width="0.22">89</text>
<text x="258.70" y="489.32" font-size="7.8" font-weight="bold" text-anchor="middle" fill="#420728" stroke="#420728" stroke-width="0.22">77</text>
<text x="278.90" y="489.32" font-size="7.8" font-weight="bold" text-anchor="middle" fill="#fff" stroke="#fff" stroke-width="0.22">85</text>
<text x="299.10" y="489.32" font-size="7.8" font-weight="bold" text-anchor="middle" fill="#fff" stroke="#fff" stroke-width="0.22">88</text>
<text x="319.30" y="489.32" font-size="7.8" font-weight="bold" text-anchor="middle" fill="#fff" stroke="#fff" stroke-width="0.22">92</text>
<text x="339.50" y="489.32" font-size="7.8" font-weight="bold" text-anchor="middle" fill="#fff" stroke="#fff" stroke-width="0.22">96</text>
<line x1="268.80" y1="436.00" x2="268.80" y2="492.60" stroke="#8c8088" stroke-width="0.5"/>
<line x1="289.00" y1="436.00" x2="289.00" y2="492.60" stroke="#8c8088" stroke-width="0.5"/>
<line x1="309.20" y1="436.00" x2="309.20" y2="492.60" stroke="#8c8088" stroke-width="0.5"/>
<line x1="329.40" y1="436.00" x2="329.40" y2="492.60" stroke="#8c8088" stroke-width="0.5"/>
<line x1="248.60" y1="450.15" x2="349.60" y2="450.15" stroke="#8c8088" stroke-width="0.5"/>
<line x1="248.60" y1="464.30" x2="349.60" y2="464.30" stroke="#8c8088" stroke-width="0.5"/>
<line x1="248.60" y1="478.45" x2="349.60" y2="478.45" stroke="#8c8088" stroke-width="0.5"/>
<rect x="248.60" y="436.00" width="101.00" height="56.60" fill="none" stroke="#1a1a1a" stroke-width="0.8"/>
<text x="226.60" y="467.26" font-size="6.6" font-weight="bold" text-anchor="middle" fill="#111" transform="rotate(-90 226.60 464.90)" stroke="#111" stroke-width="0.22">Prex. (nmol/L)</text>
<text x="229.90" y="511.19" font-size="7.8" font-weight="bold" text-anchor="middle" fill="#111" stroke="#111" stroke-width="0.22">SK-LMS-1</text>
<text x="298.40" y="510.94" font-size="7.1" font-weight="bold" text-anchor="middle" fill="#111" stroke="#111" stroke-width="0.22">Cisplatin (µmol/L)</text>
<text x="258.70" y="522.27" font-size="6.9" font-weight="bold" text-anchor="middle" fill="#111" stroke="#111" stroke-width="0.22">0</text>
<text x="278.90" y="522.27" font-size="6.9" font-weight="bold" text-anchor="middle" fill="#111" stroke="#111" stroke-width="0.22">1</text>
<text x="299.10" y="522.27" font-size="6.9" font-weight="bold" text-anchor="middle" fill="#111" stroke="#111" stroke-width="0.22">2</text>
<text x="319.30" y="522.27" font-size="6.9" font-weight="bold" text-anchor="middle" fill="#111" stroke="#111" stroke-width="0.22">4</text>
<text x="339.50" y="522.27" font-size="6.9" font-weight="bold" text-anchor="middle" fill="#111" stroke="#111" stroke-width="0.22">8</text>
<text x="245.20" y="534.72" font-size="6.7" font-weight="bold" text-anchor="end" fill="#111" stroke="#111" stroke-width="0.22">0</text>
<rect x="248.60" y="525.00" width="20.20" height="14.05" fill="#ffffff"/>
<rect x="268.80" y="525.00" width="20.20" height="14.05" fill="#dad0e6"/>
<rect x="289.00" y="525.00" width="20.20" height="14.05" fill="#b86cb2"/>
<rect x="309.20" y="525.00" width="20.20" height="14.05" fill="#b83282"/>
<rect x="329.40" y="525.00" width="20.20" height="14.05" fill="#8e164c"/>
<text x="245.20" y="548.77" font-size="6.7" font-weight="bold" text-anchor="end" fill="#111" stroke="#111" stroke-width="0.22">10</text>
<rect x="248.60" y="539.05" width="20.20" height="14.05" fill="#ffffff"/>
<rect x="268.80" y="539.05" width="20.20" height="14.05" fill="#bb519d"/>
<rect x="289.00" y="539.05" width="20.20" height="14.05" fill="#a11a5e"/>
<rect x="309.20" y="539.05" width="20.20" height="14.05" fill="#891549"/>
<rect x="329.40" y="539.05" width="20.20" height="14.05" fill="#5c152f"/>
<text x="245.20" y="562.82" font-size="6.7" font-weight="bold" text-anchor="end" fill="#111" stroke="#111" stroke-width="0.22">25</text>
<rect x="248.60" y="553.10" width="20.20" height="14.05" fill="#cec0de"/>
<rect x="268.80" y="553.10" width="20.20" height="14.05" fill="#a62064"/>
<rect x="289.00" y="553.10" width="20.20" height="14.05" fill="#961653"/>
<rect x="309.20" y="553.10" width="20.20" height="14.05" fill="#7f1744"/>
<rect x="329.40" y="553.10" width="20.20" height="14.05" fill="#59162e"/>
<text x="245.20" y="576.87" font-size="6.7" font-weight="bold" text-anchor="end" fill="#111" stroke="#111" stroke-width="0.22">50</text>
<rect x="248.60" y="567.15" width="20.20" height="14.05" fill="#b967ae"/>
<rect x="268.80" y="567.15" width="20.20" height="14.05" fill="#9a1656"/>
<rect x="289.00" y="567.15" width="20.20" height="14.05" fill="#891549"/>
<rect x="309.20" y="567.15" width="20.20" height="14.05" fill="#7c1843"/>
<rect x="329.40" y="567.15" width="20.20" height="14.05" fill="#59162e"/>
<text x="258.70" y="535.12" font-size="7.8" font-weight="bold" text-anchor="middle" fill="#1a1a1a" stroke="#1a1a1a" stroke-width="0.22">0</text>
<text x="278.90" y="535.12" font-size="7.8" font-weight="bold" text-anchor="middle" fill="#1a1a1a" stroke="#1a1a1a" stroke-width="0.22">27</text>
<text x="299.10" y="535.12" font-size="7.8" font-weight="bold" text-anchor="middle" fill="#4d2550" stroke="#4d2550" stroke-width="0.22">51</text>
<text x="319.30" y="535.12" font-size="7.8" font-weight="bold" text-anchor="middle" fill="#4d113a" stroke="#4d113a" stroke-width="0.22">65</text>
<text x="339.50" y="535.12" font-size="7.8" font-weight="bold" text-anchor="middle" fill="#fff" stroke="#fff" stroke-width="0.22">81</text>
<text x="258.70" y="549.17" font-size="7.8" font-weight="bold" text-anchor="middle" fill="#1a1a1a" stroke="#1a1a1a" stroke-width="0.22">7</text>
<text x="278.90" y="549.17" font-size="7.8" font-weight="bold" text-anchor="middle" fill="#4e1c46" stroke="#4e1c46" stroke-width="0.22">56</text>
<text x="299.10" y="549.17" font-size="7.8" font-weight="bold" text-anchor="middle" fill="#43092a" stroke="#43092a" stroke-width="0.22">75</text>
<text x="319.30" y="549.17" font-size="7.8" font-weight="bold" text-anchor="middle" fill="#fff" stroke="#fff" stroke-width="0.22">83</text>
<text x="339.50" y="549.17" font-size="7.8" font-weight="bold" text-anchor="middle" fill="#fff" stroke="#fff" stroke-width="0.22">94</text>
<text x="258.70" y="563.22" font-size="7.8" font-weight="bold" text-anchor="middle" fill="#1a1a1a" stroke="#1a1a1a" stroke-width="0.22">30</text>
<text x="278.90" y="563.22" font-size="7.8" font-weight="bold" text-anchor="middle" fill="#450b2d" stroke="#450b2d" stroke-width="0.22">72</text>
<text x="299.10" y="563.22" font-size="7.8" font-weight="bold" text-anchor="middle" fill="#3f0725" stroke="#3f0725" stroke-width="0.22">79</text>
<text x="319.30" y="563.22" font-size="7.8" font-weight="bold" text-anchor="middle" fill="#fff" stroke="#fff" stroke-width="0.22">87</text>
<text x="339.50" y="563.22" font-size="7.8" font-weight="bold" text-anchor="middle" fill="#fff" stroke="#fff" stroke-width="0.22">95</text>
<text x="258.70" y="577.27" font-size="7.8" font-weight="bold" text-anchor="middle" fill="#4d244e" stroke="#4d244e" stroke-width="0.22">52</text>
<text x="278.90" y="577.27" font-size="7.8" font-weight="bold" text-anchor="middle" fill="#400726" stroke="#400726" stroke-width="0.22">78</text>
<text x="299.10" y="577.27" font-size="7.8" font-weight="bold" text-anchor="middle" fill="#fff" stroke="#fff" stroke-width="0.22">83</text>
<text x="319.30" y="577.27" font-size="7.8" font-weight="bold" text-anchor="middle" fill="#fff" stroke="#fff" stroke-width="0.22">88</text>
<text x="339.50" y="577.27" font-size="7.8" font-weight="bold" text-anchor="middle" fill="#fff" stroke="#fff" stroke-width="0.22">95</text>
<line x1="268.80" y1="525.00" x2="268.80" y2="581.20" stroke="#8c8088" stroke-width="0.5"/>
<line x1="289.00" y1="525.00" x2="289.00" y2="581.20" stroke="#8c8088" stroke-width="0.5"/>
<line x1="309.20" y1="525.00" x2="309.20" y2="581.20" stroke="#8c8088" stroke-width="0.5"/>
<line x1="329.40" y1="525.00" x2="329.40" y2="581.20" stroke="#8c8088" stroke-width="0.5"/>
<line x1="248.60" y1="539.05" x2="349.60" y2="539.05" stroke="#8c8088" stroke-width="0.5"/>
<line x1="248.60" y1="553.10" x2="349.60" y2="553.10" stroke="#8c8088" stroke-width="0.5"/>
<line x1="248.60" y1="567.15" x2="349.60" y2="567.15" stroke="#8c8088" stroke-width="0.5"/>
<rect x="248.60" y="525.00" width="101.00" height="56.20" fill="none" stroke="#1a1a1a" stroke-width="0.8"/>
<text x="226.60" y="556.06" font-size="6.6" font-weight="bold" text-anchor="middle" fill="#111" transform="rotate(-90 226.60 553.70)" stroke="#111" stroke-width="0.22">Prex. (nmol/L)</text>
<text x="230.20" y="600.19" font-size="7.8" font-weight="bold" text-anchor="middle" fill="#111" stroke="#111" stroke-width="0.22">SKN</text>
<text x="298.40" y="599.94" font-size="7.1" font-weight="bold" text-anchor="middle" fill="#111" stroke="#111" stroke-width="0.22">Cisplatin (µmol/L)</text>
<text x="258.70" y="609.87" font-size="6.9" font-weight="bold" text-anchor="middle" fill="#111" stroke="#111" stroke-width="0.22">0</text>
<text x="278.90" y="609.87" font-size="6.9" font-weight="bold" text-anchor="middle" fill="#111" stroke="#111" stroke-width="0.22">1</text>
<text x="299.10" y="609.87" font-size="6.9" font-weight="bold" text-anchor="middle" fill="#111" stroke="#111" stroke-width="0.22">2</text>
<text x="319.30" y="609.87" font-size="6.9" font-weight="bold" text-anchor="middle" fill="#111" stroke="#111" stroke-width="0.22">4</text>
<text x="339.50" y="609.87" font-size="6.9" font-weight="bold" text-anchor="middle" fill="#111" stroke="#111" stroke-width="0.22">8</text>
<text x="245.20" y="622.34" font-size="6.7" font-weight="bold" text-anchor="end" fill="#111" stroke="#111" stroke-width="0.22">0</text>
<rect x="248.60" y="612.60" width="20.20" height="14.07" fill="#ffffff"/>
<rect x="268.80" y="612.60" width="20.20" height="14.07" fill="#ffffff"/>
<rect x="289.00" y="612.60" width="20.20" height="14.07" fill="#ddd3e9"/>
<rect x="309.20" y="612.60" width="20.20" height="14.07" fill="#c9b6db"/>
<rect x="329.40" y="612.60" width="20.20" height="14.07" fill="#b83080"/>
<text x="245.20" y="636.41" font-size="6.7" font-weight="bold" text-anchor="end" fill="#111" stroke="#111" stroke-width="0.22">10</text>
<rect x="248.60" y="626.67" width="20.20" height="14.07" fill="#ffffff"/>
<rect x="268.80" y="626.67" width="20.20" height="14.07" fill="#bb98cd"/>
<rect x="289.00" y="626.67" width="20.20" height="14.07" fill="#b583c2"/>
<rect x="309.20" y="626.67" width="20.20" height="14.07" fill="#ba4292"/>
<rect x="329.40" y="626.67" width="20.20" height="14.07" fill="#891549"/>
<text x="245.20" y="650.49" font-size="6.7" font-weight="bold" text-anchor="end" fill="#111" stroke="#111" stroke-width="0.22">25</text>
<rect x="248.60" y="640.75" width="20.20" height="14.07" fill="#ded4ea"/>
<rect x="268.80" y="640.75" width="20.20" height="14.07" fill="#b480c0"/>
<rect x="289.00" y="640.75" width="20.20" height="14.07" fill="#bb63aa"/>
<rect x="309.20" y="640.75" width="20.20" height="14.07" fill="#b83282"/>
<rect x="329.40" y="640.75" width="20.20" height="14.07" fill="#821645"/>
<text x="245.20" y="664.56" font-size="6.7" font-weight="bold" text-anchor="end" fill="#111" stroke="#111" stroke-width="0.22">50</text>
<rect x="248.60" y="654.83" width="20.20" height="14.07" fill="#b892ca"/>
<rect x="268.80" y="654.83" width="20.20" height="14.07" fill="#b967ae"/>
<rect x="289.00" y="654.83" width="20.20" height="14.07" fill="#bc5ea6"/>
<rect x="309.20" y="654.83" width="20.20" height="14.07" fill="#b02874"/>
<rect x="329.40" y="654.83" width="20.20" height="14.07" fill="#821645"/>
<text x="258.70" y="622.73" font-size="7.8" font-weight="bold" text-anchor="middle" fill="#1a1a1a" stroke="#1a1a1a" stroke-width="0.22">0</text>
<text x="278.90" y="622.73" font-size="7.8" font-weight="bold" text-anchor="middle" fill="#1a1a1a" stroke="#1a1a1a" stroke-width="0.22">17</text>
<text x="299.10" y="622.73" font-size="7.8" font-weight="bold" text-anchor="middle" fill="#1a1a1a" stroke="#1a1a1a" stroke-width="0.22">24</text>
<text x="319.30" y="622.73" font-size="7.8" font-weight="bold" text-anchor="middle" fill="#1a1a1a" stroke="#1a1a1a" stroke-width="0.22">34</text>
<text x="339.50" y="622.73" font-size="7.8" font-weight="bold" text-anchor="middle" fill="#4d1039" stroke="#4d1039" stroke-width="0.22">66</text>
<text x="258.70" y="636.80" font-size="7.8" font-weight="bold" text-anchor="middle" fill="#1a1a1a" stroke="#1a1a1a" stroke-width="0.22">8</text>
<text x="278.90" y="636.80" font-size="7.8" font-weight="bold" text-anchor="middle" fill="#3a2a50" stroke="#3a2a50" stroke-width="0.22">40</text>
<text x="299.10" y="636.80" font-size="7.8" font-weight="bold" text-anchor="middle" fill="#3a2a50" stroke="#3a2a50" stroke-width="0.22">46</text>
<text x="319.30" y="636.80" font-size="7.8" font-weight="bold" text-anchor="middle" fill="#4e1741" stroke="#4e1741" stroke-width="0.22">59</text>
<text x="339.50" y="636.80" font-size="7.8" font-weight="bold" text-anchor="middle" fill="#fff" stroke="#fff" stroke-width="0.22">83</text>
<text x="258.70" y="650.88" font-size="7.8" font-weight="bold" text-anchor="middle" fill="#1a1a1a" stroke="#1a1a1a" stroke-width="0.22">23</text>
<text x="278.90" y="650.88" font-size="7.8" font-weight="bold" text-anchor="middle" fill="#3a2a50" stroke="#3a2a50" stroke-width="0.22">47</text>
<text x="299.10" y="650.88" font-size="7.8" font-weight="bold" text-anchor="middle" fill="#4e224c" stroke="#4e224c" stroke-width="0.22">53</text>
<text x="319.30" y="650.88" font-size="7.8" font-weight="bold" text-anchor="middle" fill="#4d113a" stroke="#4d113a" stroke-width="0.22">65</text>
<text x="339.50" y="650.88" font-size="7.8" font-weight="bold" text-anchor="middle" fill="#fff" stroke="#fff" stroke-width="0.22">86</text>
<text x="258.70" y="664.95" font-size="7.8" font-weight="bold" text-anchor="middle" fill="#3a2a50" stroke="#3a2a50" stroke-width="0.22">41</text>
<text x="278.90" y="664.95" font-size="7.8" font-weight="bold" text-anchor="middle" fill="#4d244e" stroke="#4d244e" stroke-width="0.22">52</text>
<text x="299.10" y="664.95" font-size="7.8" font-weight="bold" text-anchor="middle" fill="#4e204a" stroke="#4e204a" stroke-width="0.22">54</text>
<text x="319.30" y="664.95" font-size="7.8" font-weight="bold" text-anchor="middle" fill="#490e34" stroke="#490e34" stroke-width="0.22">69</text>
<text x="339.50" y="664.95" font-size="7.8" font-weight="bold" text-anchor="middle" fill="#fff" stroke="#fff" stroke-width="0.22">86</text>
<line x1="268.80" y1="612.60" x2="268.80" y2="668.90" stroke="#8c8088" stroke-width="0.5"/>
<line x1="289.00" y1="612.60" x2="289.00" y2="668.90" stroke="#8c8088" stroke-width="0.5"/>
<line x1="309.20" y1="612.60" x2="309.20" y2="668.90" stroke="#8c8088" stroke-width="0.5"/>
<line x1="329.40" y1="612.60" x2="329.40" y2="668.90" stroke="#8c8088" stroke-width="0.5"/>
<line x1="248.60" y1="626.67" x2="349.60" y2="626.67" stroke="#8c8088" stroke-width="0.5"/>
<line x1="248.60" y1="640.75" x2="349.60" y2="640.75" stroke="#8c8088" stroke-width="0.5"/>
<line x1="248.60" y1="654.83" x2="349.60" y2="654.83" stroke="#8c8088" stroke-width="0.5"/>
<rect x="248.60" y="612.60" width="101.00" height="56.30" fill="none" stroke="#1a1a1a" stroke-width="0.8"/>
<text x="226.60" y="643.71" font-size="6.6" font-weight="bold" text-anchor="middle" fill="#111" transform="rotate(-90 226.60 641.35)" stroke="#111" stroke-width="0.22">Prex. (nmol/L)</text>
<text x="436.90" y="400.41" font-size="7.0" text-anchor="middle" stroke="#222" stroke-width="0.16">Combination index</text>
<rect x="401.20" y="402.00" width="6.53" height="3.30" fill="#5a9428"/>
<rect x="407.68" y="402.00" width="6.53" height="3.30" fill="#86b04e"/>
<rect x="414.16" y="402.00" width="6.53" height="3.30" fill="#a8cc78"/>
<rect x="420.64" y="402.00" width="6.53" height="3.30" fill="#cce4b0"/>
<rect x="427.12" y="402.00" width="6.53" height="3.30" fill="#e8f2dc"/>
<rect x="433.60" y="402.00" width="6.53" height="3.30" fill="#ffffff"/>
<rect x="440.08" y="402.00" width="6.53" height="3.30" fill="#f6ecf4"/>
<rect x="446.56" y="402.00" width="6.53" height="3.30" fill="#e0b4d8"/>
<rect x="453.04" y="402.00" width="6.53" height="3.30" fill="#c060a8"/>
<rect x="459.52" y="402.00" width="6.53" height="3.30" fill="#8c1474"/>
<text x="398.60" y="405.75" font-size="6.0" text-anchor="end" fill="#7aa84a" stroke="#7aa84a" stroke-width="0.16">Synergistic</text>
<text x="469.20" y="405.75" font-size="6.0" fill="#b840a0" stroke="#b840a0" stroke-width="0.16">Antagonistic</text>
<text x="400.90" y="413.38" font-size="6.1" text-anchor="middle" fill="#333" stroke="#333" stroke-width="0.16">0.50</text>
<text x="433.90" y="413.38" font-size="6.1" text-anchor="middle" fill="#333" stroke="#333" stroke-width="0.16">1.00</text>
<text x="467.10" y="413.38" font-size="6.1" text-anchor="middle" fill="#333" stroke="#333" stroke-width="0.16">1.50</text>
<text x="436.50" y="429.54" font-size="7.1" font-weight="bold" text-anchor="middle" fill="#111" stroke="#111" stroke-width="0.22">Cisplatin (µmol/L)</text>
<text x="400.72" y="439.07" font-size="6.9" font-weight="bold" text-anchor="middle" fill="#111" stroke="#111" stroke-width="0.22">1</text>
<text x="425.77" y="439.07" font-size="6.9" font-weight="bold" text-anchor="middle" fill="#111" stroke="#111" stroke-width="0.22">2</text>
<text x="450.82" y="439.07" font-size="6.9" font-weight="bold" text-anchor="middle" fill="#111" stroke="#111" stroke-width="0.22">4</text>
<text x="475.88" y="439.07" font-size="6.9" font-weight="bold" text-anchor="middle" fill="#111" stroke="#111" stroke-width="0.22">8</text>
<text x="384.40" y="452.93" font-size="6.7" font-weight="bold" text-anchor="end" fill="#111" stroke="#111" stroke-width="0.22">1</text>
<rect x="388.20" y="441.40" width="25.05" height="17.27" fill="#ecd0e4"/>
<rect x="388.20" y="441.40" width="25.05" height="17.27" fill="url(#gloss)"/>
<rect x="413.25" y="441.40" width="25.05" height="17.27" fill="#f6eef6"/>
<rect x="413.25" y="441.40" width="25.05" height="17.27" fill="url(#gloss)"/>
<rect x="438.30" y="441.40" width="25.05" height="17.27" fill="#e1efd0"/>
<rect x="438.30" y="441.40" width="25.05" height="17.27" fill="url(#gloss)"/>
<rect x="463.35" y="441.40" width="25.05" height="17.27" fill="#dcecc6"/>
<rect x="463.35" y="441.40" width="25.05" height="17.27" fill="url(#gloss)"/>
<text x="384.40" y="470.20" font-size="6.7" font-weight="bold" text-anchor="end" fill="#111" stroke="#111" stroke-width="0.22">2</text>
<rect x="388.20" y="458.67" width="25.05" height="17.27" fill="#e1efd0"/>
<rect x="388.20" y="458.67" width="25.05" height="17.27" fill="url(#gloss)"/>
<rect x="413.25" y="458.67" width="25.05" height="17.27" fill="#b6d68e"/>
<rect x="413.25" y="458.67" width="25.05" height="17.27" fill="url(#gloss)"/>
<rect x="438.30" y="458.67" width="25.05" height="17.27" fill="#a6ca76"/>
<rect x="438.30" y="458.67" width="25.05" height="17.27" fill="url(#gloss)"/>
<rect x="463.35" y="458.67" width="25.05" height="17.27" fill="#86b450"/>
<rect x="463.35" y="458.67" width="25.05" height="17.27" fill="url(#gloss)"/>
<text x="384.40" y="487.47" font-size="6.7" font-weight="bold" text-anchor="end" fill="#111" stroke="#111" stroke-width="0.22">4</text>
<rect x="388.20" y="475.93" width="25.05" height="17.27" fill="#deeecc"/>
<rect x="388.20" y="475.93" width="25.05" height="17.27" fill="url(#gloss)"/>
<rect x="413.25" y="475.93" width="25.05" height="17.27" fill="#e3f0d2"/>
<rect x="413.25" y="475.93" width="25.05" height="17.27" fill="url(#gloss)"/>
<rect x="438.30" y="475.93" width="25.05" height="17.27" fill="#b2d288"/>
<rect x="438.30" y="475.93" width="25.05" height="17.27" fill="url(#gloss)"/>
<rect x="463.35" y="475.93" width="25.05" height="17.27" fill="#86b450"/>
<rect x="463.35" y="475.93" width="25.05" height="17.27" fill="url(#gloss)"/>
<text x="400.72" y="453.29" font-size="7.7" font-weight="bold" text-anchor="middle" fill="#1c1c1c" stroke="#1c1c1c" stroke-width="0.22">1.12</text>
<text x="425.77" y="453.29" font-size="7.7" font-weight="bold" text-anchor="middle" fill="#1c1c1c" stroke="#1c1c1c" stroke-width="0.22">1.03</text>
<text x="450.82" y="453.29" font-size="7.7" font-weight="bold" text-anchor="middle" fill="#1c1c1c" stroke="#1c1c1c" stroke-width="0.22">0.88</text>
<text x="475.88" y="453.29" font-size="7.7" font-weight="bold" text-anchor="middle" fill="#1c1c1c" stroke="#1c1c1c" stroke-width="0.22">0.83</text>
<text x="400.72" y="470.56" font-size="7.7" font-weight="bold" text-anchor="middle" fill="#1c1c1c" stroke="#1c1c1c" stroke-width="0.22">0.88</text>
<text x="425.77" y="470.56" font-size="7.7" font-weight="bold" text-anchor="middle" fill="#1c1c1c" stroke="#1c1c1c" stroke-width="0.22">0.79</text>
<text x="450.82" y="470.56" font-size="7.7" font-weight="bold" text-anchor="middle" fill="#1c1c1c" stroke="#1c1c1c" stroke-width="0.22">0.73</text>
<text x="475.88" y="470.56" font-size="7.7" font-weight="bold" text-anchor="middle" fill="#1c1c1c" stroke="#1c1c1c" stroke-width="0.22">0.67</text>
<text x="400.72" y="487.82" font-size="7.7" font-weight="bold" text-anchor="middle" fill="#1c1c1c" stroke="#1c1c1c" stroke-width="0.22">0.89</text>
<text x="425.77" y="487.82" font-size="7.7" font-weight="bold" text-anchor="middle" fill="#1c1c1c" stroke="#1c1c1c" stroke-width="0.22">0.85</text>
<text x="450.82" y="487.82" font-size="7.7" font-weight="bold" text-anchor="middle" fill="#1c1c1c" stroke="#1c1c1c" stroke-width="0.22">0.76</text>
<text x="475.88" y="487.82" font-size="7.7" font-weight="bold" text-anchor="middle" fill="#1c1c1c" stroke="#1c1c1c" stroke-width="0.22">0.67</text>
<line x1="413.25" y1="441.40" x2="413.25" y2="493.20" stroke="#70786a" stroke-width="0.5"/>
<line x1="438.30" y1="441.40" x2="438.30" y2="493.20" stroke="#70786a" stroke-width="0.5"/>
<line x1="463.35" y1="441.40" x2="463.35" y2="493.20" stroke="#70786a" stroke-width="0.5"/>
<line x1="388.20" y1="458.67" x2="488.40" y2="458.67" stroke="#70786a" stroke-width="0.5"/>
<line x1="388.20" y1="475.93" x2="488.40" y2="475.93" stroke="#70786a" stroke-width="0.5"/>
<rect x="388.20" y="441.40" width="100.20" height="51.80" fill="none" stroke="#222" stroke-width="0.8"/>
<text x="370.60" y="469.16" font-size="6.6" font-weight="bold" text-anchor="middle" fill="#111" transform="rotate(-90 370.60 466.80)" stroke="#111" stroke-width="0.22">Prex. (nmol/L)</text>
<text x="436.00" y="517.14" font-size="7.1" font-weight="bold" text-anchor="middle" fill="#111" stroke="#111" stroke-width="0.22">Cisplatin (µmol/L)</text>
<text x="400.72" y="527.67" font-size="6.9" font-weight="bold" text-anchor="middle" fill="#111" stroke="#111" stroke-width="0.22">1</text>
<text x="425.77" y="527.67" font-size="6.9" font-weight="bold" text-anchor="middle" fill="#111" stroke="#111" stroke-width="0.22">2</text>
<text x="450.82" y="527.67" font-size="6.9" font-weight="bold" text-anchor="middle" fill="#111" stroke="#111" stroke-width="0.22">4</text>
<text x="475.88" y="527.67" font-size="6.9" font-weight="bold" text-anchor="middle" fill="#111" stroke="#111" stroke-width="0.22">8</text>
<text x="384.40" y="541.50" font-size="6.7" font-weight="bold" text-anchor="end" fill="#111" stroke="#111" stroke-width="0.22">10</text>
<rect x="388.20" y="530.00" width="25.05" height="17.20" fill="#5c8c34"/>
<rect x="388.20" y="530.00" width="25.05" height="17.20" fill="url(#gloss)"/>
<rect x="413.25" y="530.00" width="25.05" height="17.20" fill="#54842c"/>
<rect x="413.25" y="530.00" width="25.05" height="17.20" fill="url(#gloss)"/>
<rect x="438.30" y="530.00" width="25.05" height="17.20" fill="#7aaa46"/>
<rect x="438.30" y="530.00" width="25.05" height="17.20" fill="url(#gloss)"/>
<rect x="463.35" y="530.00" width="25.05" height="17.20" fill="#56862e"/>
<rect x="463.35" y="530.00" width="25.05" height="17.20" fill="url(#gloss)"/>
<text x="384.40" y="558.70" font-size="6.7" font-weight="bold" text-anchor="end" fill="#111" stroke="#111" stroke-width="0.22">25</text>
<rect x="388.20" y="547.20" width="25.05" height="17.20" fill="#5f8f35"/>
<rect x="388.20" y="547.20" width="25.05" height="17.20" fill="url(#gloss)"/>
<rect x="413.25" y="547.20" width="25.05" height="17.20" fill="#7aaa46"/>
<rect x="413.25" y="547.20" width="25.05" height="17.20" fill="url(#gloss)"/>
<rect x="438.30" y="547.20" width="25.05" height="17.20" fill="#84b24e"/>
<rect x="438.30" y="547.20" width="25.05" height="17.20" fill="url(#gloss)"/>
<rect x="463.35" y="547.20" width="25.05" height="17.20" fill="#629236"/>
<rect x="463.35" y="547.20" width="25.05" height="17.20" fill="url(#gloss)"/>
<text x="384.40" y="575.90" font-size="6.7" font-weight="bold" text-anchor="end" fill="#111" stroke="#111" stroke-width="0.22">50</text>
<rect x="388.20" y="564.40" width="25.05" height="17.20" fill="#deecca"/>
<rect x="388.20" y="564.40" width="25.05" height="17.20" fill="url(#gloss)"/>
<rect x="413.25" y="564.40" width="25.05" height="17.20" fill="#dcecc6"/>
<rect x="413.25" y="564.40" width="25.05" height="17.20" fill="url(#gloss)"/>
<rect x="438.30" y="564.40" width="25.05" height="17.20" fill="#e6f2d8"/>
<rect x="438.30" y="564.40" width="25.05" height="17.20" fill="url(#gloss)"/>
<rect x="463.35" y="564.40" width="25.05" height="17.20" fill="#aecf82"/>
<rect x="463.35" y="564.40" width="25.05" height="17.20" fill="url(#gloss)"/>
<text x="400.72" y="541.86" font-size="7.7" font-weight="bold" text-anchor="middle" fill="#1c1c1c" stroke="#1c1c1c" stroke-width="0.22">0.55</text>
<text x="425.77" y="541.86" font-size="7.7" font-weight="bold" text-anchor="middle" fill="#1c1c1c" stroke="#1c1c1c" stroke-width="0.22">0.51</text>
<text x="450.82" y="541.86" font-size="7.7" font-weight="bold" text-anchor="middle" fill="#1c1c1c" stroke="#1c1c1c" stroke-width="0.22">0.61</text>
<text x="475.88" y="541.86" font-size="7.7" font-weight="bold" text-anchor="middle" fill="#1c1c1c" stroke="#1c1c1c" stroke-width="0.22">0.52</text>
<text x="400.72" y="559.06" font-size="7.7" font-weight="bold" text-anchor="middle" fill="#1c1c1c" stroke="#1c1c1c" stroke-width="0.22">0.56</text>
<text x="425.77" y="559.06" font-size="7.7" font-weight="bold" text-anchor="middle" fill="#1c1c1c" stroke="#1c1c1c" stroke-width="0.22">0.61</text>
<text x="450.82" y="559.06" font-size="7.7" font-weight="bold" text-anchor="middle" fill="#1c1c1c" stroke="#1c1c1c" stroke-width="0.22">0.66</text>
<text x="475.88" y="559.06" font-size="7.7" font-weight="bold" text-anchor="middle" fill="#1c1c1c" stroke="#1c1c1c" stroke-width="0.22">0.57</text>
<text x="400.72" y="576.26" font-size="7.7" font-weight="bold" text-anchor="middle" fill="#1c1c1c" stroke="#1c1c1c" stroke-width="0.22">0.80</text>
<text x="425.77" y="576.26" font-size="7.7" font-weight="bold" text-anchor="middle" fill="#1c1c1c" stroke="#1c1c1c" stroke-width="0.22">0.83</text>
<text x="450.82" y="576.26" font-size="7.7" font-weight="bold" text-anchor="middle" fill="#1c1c1c" stroke="#1c1c1c" stroke-width="0.22">0.86</text>
<text x="475.88" y="576.26" font-size="7.7" font-weight="bold" text-anchor="middle" fill="#1c1c1c" stroke="#1c1c1c" stroke-width="0.22">0.75</text>
<line x1="413.25" y1="530.00" x2="413.25" y2="581.60" stroke="#70786a" stroke-width="0.5"/>
<line x1="438.30" y1="530.00" x2="438.30" y2="581.60" stroke="#70786a" stroke-width="0.5"/>
<line x1="463.35" y1="530.00" x2="463.35" y2="581.60" stroke="#70786a" stroke-width="0.5"/>
<line x1="388.20" y1="547.20" x2="488.40" y2="547.20" stroke="#70786a" stroke-width="0.5"/>
<line x1="388.20" y1="564.40" x2="488.40" y2="564.40" stroke="#70786a" stroke-width="0.5"/>
<rect x="388.20" y="530.00" width="100.20" height="51.60" fill="none" stroke="#222" stroke-width="0.8"/>
<text x="368.40" y="557.66" font-size="6.6" font-weight="bold" text-anchor="middle" fill="#111" transform="rotate(-90 368.40 555.30)" stroke="#111" stroke-width="0.22">Prex. (nmol/L)</text>
<text x="438.60" y="606.34" font-size="7.1" font-weight="bold" text-anchor="middle" fill="#111" stroke="#111" stroke-width="0.22">Cisplatin (µmol/L)</text>
<text x="400.72" y="616.27" font-size="6.9" font-weight="bold" text-anchor="middle" fill="#111" stroke="#111" stroke-width="0.22">1</text>
<text x="425.77" y="616.27" font-size="6.9" font-weight="bold" text-anchor="middle" fill="#111" stroke="#111" stroke-width="0.22">2</text>
<text x="450.82" y="616.27" font-size="6.9" font-weight="bold" text-anchor="middle" fill="#111" stroke="#111" stroke-width="0.22">4</text>
<text x="475.88" y="616.27" font-size="6.9" font-weight="bold" text-anchor="middle" fill="#111" stroke="#111" stroke-width="0.22">8</text>
<text x="384.40" y="630.30" font-size="6.7" font-weight="bold" text-anchor="end" fill="#111" stroke="#111" stroke-width="0.22">10</text>
<rect x="388.20" y="618.60" width="25.05" height="17.60" fill="#4c7c28"/>
<rect x="388.20" y="618.60" width="25.05" height="17.60" fill="url(#gloss)"/>
<rect x="413.25" y="618.60" width="25.05" height="17.60" fill="#7aaa46"/>
<rect x="413.25" y="618.60" width="25.05" height="17.60" fill="url(#gloss)"/>
<rect x="438.30" y="618.60" width="25.05" height="17.60" fill="#a2c66e"/>
<rect x="438.30" y="618.60" width="25.05" height="17.60" fill="url(#gloss)"/>
<rect x="463.35" y="618.60" width="25.05" height="17.60" fill="#629236"/>
<rect x="463.35" y="618.60" width="25.05" height="17.60" fill="url(#gloss)"/>
<text x="384.40" y="647.90" font-size="6.7" font-weight="bold" text-anchor="end" fill="#111" stroke="#111" stroke-width="0.22">25</text>
<rect x="388.20" y="636.20" width="25.05" height="17.60" fill="#74a442"/>
<rect x="388.20" y="636.20" width="25.05" height="17.60" fill="url(#gloss)"/>
<rect x="413.25" y="636.20" width="25.05" height="17.60" fill="#9bc266"/>
<rect x="413.25" y="636.20" width="25.05" height="17.60" fill="url(#gloss)"/>
<rect x="438.30" y="636.20" width="25.05" height="17.60" fill="#a6ca76"/>
<rect x="438.30" y="636.20" width="25.05" height="17.60" fill="url(#gloss)"/>
<rect x="463.35" y="636.20" width="25.05" height="17.60" fill="#629236"/>
<rect x="463.35" y="636.20" width="25.05" height="17.60" fill="url(#gloss)"/>
<text x="384.40" y="665.50" font-size="6.7" font-weight="bold" text-anchor="end" fill="#111" stroke="#111" stroke-width="0.22">50</text>
<rect x="388.20" y="653.80" width="25.05" height="17.60" fill="#e6f2d8"/>
<rect x="388.20" y="653.80" width="25.05" height="17.60" fill="url(#gloss)"/>
<rect x="413.25" y="653.80" width="25.05" height="17.60" fill="#fafaf8"/>
<rect x="413.25" y="653.80" width="25.05" height="17.60" fill="url(#gloss)"/>
<rect x="438.30" y="653.80" width="25.05" height="17.60" fill="#e3f1d4"/>
<rect x="438.30" y="653.80" width="25.05" height="17.60" fill="url(#gloss)"/>
<rect x="463.35" y="653.80" width="25.05" height="17.60" fill="#a2c66e"/>
<rect x="463.35" y="653.80" width="25.05" height="17.60" fill="url(#gloss)"/>
<text x="400.72" y="630.66" font-size="7.7" font-weight="bold" text-anchor="middle" fill="#1c1c1c" stroke="#1c1c1c" stroke-width="0.22">0.44</text>
<text x="425.77" y="630.66" font-size="7.7" font-weight="bold" text-anchor="middle" fill="#1c1c1c" stroke="#1c1c1c" stroke-width="0.22">0.61</text>
<text x="450.82" y="630.66" font-size="7.7" font-weight="bold" text-anchor="middle" fill="#1c1c1c" stroke="#1c1c1c" stroke-width="0.22">0.71</text>
<text x="475.88" y="630.66" font-size="7.7" font-weight="bold" text-anchor="middle" fill="#1c1c1c" stroke="#1c1c1c" stroke-width="0.22">0.57</text>
<text x="400.72" y="648.26" font-size="7.7" font-weight="bold" text-anchor="middle" fill="#1c1c1c" stroke="#1c1c1c" stroke-width="0.22">0.60</text>
<text x="425.77" y="648.26" font-size="7.7" font-weight="bold" text-anchor="middle" fill="#1c1c1c" stroke="#1c1c1c" stroke-width="0.22">0.70</text>
<text x="450.82" y="648.26" font-size="7.7" font-weight="bold" text-anchor="middle" fill="#1c1c1c" stroke="#1c1c1c" stroke-width="0.22">0.73</text>
<text x="475.88" y="648.26" font-size="7.7" font-weight="bold" text-anchor="middle" fill="#1c1c1c" stroke="#1c1c1c" stroke-width="0.22">0.57</text>
<text x="400.72" y="665.86" font-size="7.7" font-weight="bold" text-anchor="middle" fill="#1c1c1c" stroke="#1c1c1c" stroke-width="0.22">0.86</text>
<text x="425.77" y="665.86" font-size="7.7" font-weight="bold" text-anchor="middle" fill="#1c1c1c" stroke="#1c1c1c" stroke-width="0.22">0.99</text>
<text x="450.82" y="665.86" font-size="7.7" font-weight="bold" text-anchor="middle" fill="#1c1c1c" stroke="#1c1c1c" stroke-width="0.22">0.87</text>
<text x="475.88" y="665.86" font-size="7.7" font-weight="bold" text-anchor="middle" fill="#1c1c1c" stroke="#1c1c1c" stroke-width="0.22">0.71</text>
<line x1="413.25" y1="618.60" x2="413.25" y2="671.40" stroke="#70786a" stroke-width="0.5"/>
<line x1="438.30" y1="618.60" x2="438.30" y2="671.40" stroke="#70786a" stroke-width="0.5"/>
<line x1="463.35" y1="618.60" x2="463.35" y2="671.40" stroke="#70786a" stroke-width="0.5"/>
<line x1="388.20" y1="636.20" x2="488.40" y2="636.20" stroke="#70786a" stroke-width="0.5"/>
<line x1="388.20" y1="653.80" x2="488.40" y2="653.80" stroke="#70786a" stroke-width="0.5"/>
<rect x="388.20" y="618.60" width="100.20" height="52.80" fill="none" stroke="#222" stroke-width="0.8"/>
<text x="368.40" y="646.86" font-size="6.6" font-weight="bold" text-anchor="middle" fill="#111" transform="rotate(-90 368.40 644.50)" stroke="#111" stroke-width="0.22">Prex. (nmol/L)</text>
</svg>
</body></html>
